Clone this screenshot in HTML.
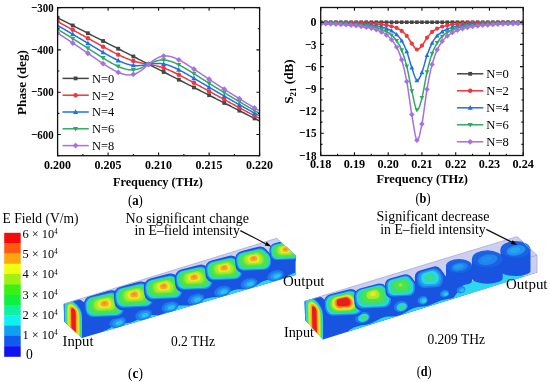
<!DOCTYPE html>
<html lang="en"><head><meta charset="utf-8"><title>Figure</title>
<style>html,body{margin:0;padding:0;background:#fff}svg{display:block}text{font-family:'Liberation Serif', serif}</style>
</head><body>
<svg width="550" height="382" viewBox="0 0 550 382">
<rect width="550" height="382" fill="#fff"/>
<clipPath id="ca"><rect x="57.6" y="7.6" width="202.00000000000003" height="148.1"/></clipPath>
<g clip-path="url(#ca)">
<polyline points="57.60,17.76 58.10,18.01 58.61,18.27 59.12,18.53 59.62,18.79 60.13,19.05 60.63,19.30 61.13,19.56 61.64,19.82 62.15,20.08 62.65,20.34 63.15,20.59 63.66,20.85 64.17,21.11 64.67,21.37 65.18,21.63 65.68,21.89 66.18,22.14 66.69,22.40 67.20,22.66 67.70,22.92 68.20,23.18 68.71,23.43 69.22,23.69 69.72,23.95 70.23,24.21 70.73,24.47 71.23,24.72 71.74,24.98 72.25,25.24 72.75,25.50 73.25,25.76 73.76,26.02 74.27,26.27 74.77,26.53 75.28,26.79 75.78,27.05 76.28,27.31 76.79,27.56 77.30,27.82 77.80,28.08 78.30,28.34 78.81,28.60 79.32,28.85 79.82,29.11 80.33,29.37 80.83,29.63 81.33,29.89 81.84,30.15 82.35,30.40 82.85,30.66 83.35,30.92 83.86,31.18 84.37,31.44 84.87,31.69 85.38,31.95 85.88,32.21 86.38,32.47 86.89,32.73 87.40,32.98 87.90,33.24 88.40,33.50 88.91,33.76 89.41,34.02 89.92,34.27 90.43,34.53 90.93,34.79 91.43,35.05 91.94,35.31 92.45,35.57 92.95,35.82 93.45,36.08 93.96,36.34 94.46,36.60 94.97,36.86 95.48,37.11 95.98,37.37 96.48,37.63 96.99,37.89 97.50,38.15 98.00,38.40 98.50,38.66 99.01,38.92 99.51,39.18 100.02,39.44 100.53,39.70 101.03,39.95 101.53,40.21 102.04,40.47 102.55,40.73 103.05,40.99 103.55,41.24 104.06,41.50 104.56,41.76 105.07,42.02 105.58,42.28 106.08,42.53 106.58,42.79 107.09,43.05 107.60,43.31 108.10,43.57 108.60,43.83 109.11,44.08 109.61,44.34 110.12,44.60 110.63,44.86 111.13,45.12 111.63,45.37 112.14,45.63 112.65,45.89 113.15,46.15 113.66,46.41 114.16,46.66 114.66,46.92 115.17,47.18 115.68,47.44 116.18,47.70 116.68,47.96 117.19,48.21 117.70,48.47 118.20,48.73 118.71,48.99 119.21,49.25 119.71,49.50 120.22,49.76 120.73,50.02 121.23,50.28 121.73,50.54 122.24,50.79 122.75,51.05 123.25,51.31 123.76,51.57 124.26,51.83 124.76,52.09 125.27,52.34 125.78,52.60 126.28,52.86 126.78,53.12 127.29,53.38 127.80,53.63 128.30,53.89 128.81,54.15 129.31,54.41 129.81,54.67 130.32,54.92 130.83,55.18 131.33,55.44 131.83,55.70 132.34,55.96 132.85,56.21 133.35,56.47 133.86,56.73 134.36,56.99 134.86,57.25 135.37,57.51 135.88,57.76 136.38,58.02 136.88,58.28 137.39,58.54 137.90,58.80 138.40,59.05 138.91,59.31 139.41,59.57 139.91,59.83 140.42,60.09 140.93,60.34 141.43,60.60 141.93,60.86 142.44,61.12 142.95,61.38 143.45,61.64 143.96,61.89 144.46,62.15 144.96,62.41 145.47,62.67 145.98,62.93 146.48,63.18 146.98,63.44 147.49,63.70 148.00,63.96 148.50,64.22 149.01,64.47 149.51,64.73 150.01,64.99 150.52,65.25 151.03,65.51 151.53,65.77 152.03,66.02 152.54,66.28 153.05,66.54 153.55,66.80 154.06,67.06 154.56,67.31 155.06,67.57 155.57,67.83 156.08,68.09 156.58,68.35 157.08,68.60 157.59,68.86 158.10,69.12 158.60,69.38 159.11,69.64 159.61,69.90 160.11,70.15 160.62,70.41 161.13,70.67 161.63,70.93 162.13,71.19 162.64,71.44 163.14,71.70 163.65,71.96 164.16,72.22 164.66,72.48 165.16,72.73 165.67,72.99 166.18,73.25 166.68,73.51 167.19,73.77 167.69,74.02 168.19,74.28 168.70,74.54 169.21,74.80 169.71,75.06 170.21,75.32 170.72,75.57 171.23,75.83 171.73,76.09 172.23,76.35 172.74,76.61 173.24,76.86 173.75,77.12 174.26,77.38 174.76,77.64 175.26,77.90 175.77,78.15 176.28,78.41 176.78,78.67 177.28,78.93 177.79,79.19 178.29,79.45 178.80,79.70 179.31,79.96 179.81,80.22 180.31,80.48 180.82,80.74 181.33,80.99 181.83,81.25 182.34,81.51 182.84,81.77 183.34,82.03 183.85,82.28 184.36,82.54 184.86,82.80 185.36,83.06 185.87,83.32 186.38,83.58 186.88,83.83 187.38,84.09 187.89,84.35 188.39,84.61 188.90,84.87 189.41,85.12 189.91,85.38 190.41,85.64 190.92,85.90 191.43,86.16 191.93,86.41 192.44,86.67 192.94,86.93 193.44,87.19 193.95,87.45 194.46,87.71 194.96,87.96 195.46,88.22 195.97,88.48 196.48,88.74 196.98,89.00 197.49,89.25 197.99,89.51 198.49,89.77 199.00,90.03 199.51,90.29 200.01,90.54 200.51,90.80 201.02,91.06 201.53,91.32 202.03,91.58 202.54,91.84 203.04,92.09 203.54,92.35 204.05,92.61 204.56,92.87 205.06,93.13 205.56,93.38 206.07,93.64 206.58,93.90 207.08,94.16 207.59,94.42 208.09,94.67 208.59,94.93 209.10,95.19 209.61,95.45 210.11,95.71 210.61,95.96 211.12,96.22 211.63,96.48 212.13,96.74 212.64,97.00 213.14,97.26 213.64,97.51 214.15,97.77 214.66,98.03 215.16,98.29 215.66,98.55 216.17,98.80 216.67,99.06 217.18,99.32 217.69,99.58 218.19,99.84 218.69,100.09 219.20,100.35 219.71,100.61 220.21,100.87 220.72,101.13 221.22,101.39 221.72,101.64 222.23,101.90 222.74,102.16 223.24,102.42 223.74,102.68 224.25,102.93 224.76,103.19 225.26,103.45 225.76,103.71 226.27,103.97 226.77,104.22 227.28,104.48 227.79,104.74 228.29,105.00 228.79,105.26 229.30,105.52 229.81,105.77 230.31,106.03 230.81,106.29 231.32,106.55 231.82,106.81 232.33,107.06 232.84,107.32 233.34,107.58 233.84,107.84 234.35,108.10 234.86,108.35 235.36,108.61 235.87,108.87 236.37,109.13 236.87,109.39 237.38,109.65 237.89,109.90 238.39,110.16 238.89,110.42 239.40,110.68 239.91,110.94 240.41,111.19 240.92,111.45 241.42,111.71 241.92,111.97 242.43,112.23 242.94,112.48 243.44,112.74 243.94,113.00 244.45,113.26 244.96,113.52 245.46,113.78 245.97,114.03 246.47,114.29 246.97,114.55 247.48,114.81 247.99,115.07 248.49,115.32 248.99,115.58 249.50,115.84 250.01,116.10 250.51,116.36 251.02,116.61 251.52,116.87 252.02,117.13 252.53,117.39 253.04,117.65 253.54,117.90 254.04,118.16 254.55,118.42 255.06,118.68 255.56,118.94 256.07,119.20 256.57,119.45 257.07,119.71 257.58,119.97 258.09,120.23 258.59,120.49 259.09,120.74 259.60,121.00" fill="none" stroke="#454545" stroke-width="1.5"/>
<rect x="55.70" y="15.85" width="3.81" height="3.81" fill="#454545"/><rect x="70.85" y="23.59" width="3.81" height="3.81" fill="#454545"/><rect x="86.00" y="31.34" width="3.81" height="3.81" fill="#454545"/><rect x="101.15" y="39.08" width="3.81" height="3.81" fill="#454545"/><rect x="116.30" y="46.83" width="3.81" height="3.81" fill="#454545"/><rect x="131.45" y="54.57" width="3.81" height="3.81" fill="#454545"/><rect x="146.60" y="62.31" width="3.81" height="3.81" fill="#454545"/><rect x="161.75" y="70.06" width="3.81" height="3.81" fill="#454545"/><rect x="176.90" y="77.80" width="3.81" height="3.81" fill="#454545"/><rect x="192.05" y="85.54" width="3.81" height="3.81" fill="#454545"/><rect x="207.20" y="93.29" width="3.81" height="3.81" fill="#454545"/><rect x="222.35" y="101.03" width="3.81" height="3.81" fill="#454545"/><rect x="237.50" y="108.77" width="3.81" height="3.81" fill="#454545"/><rect x="252.65" y="116.52" width="3.81" height="3.81" fill="#454545"/>
<polyline points="57.60,21.58 58.10,21.86 58.61,22.13 59.12,22.41 59.62,22.68 60.13,22.96 60.63,23.23 61.13,23.51 61.64,23.78 62.15,24.06 62.65,24.33 63.15,24.61 63.66,24.89 64.17,25.16 64.67,25.44 65.18,25.71 65.68,25.99 66.18,26.27 66.69,26.54 67.20,26.82 67.70,27.09 68.20,27.37 68.71,27.65 69.22,27.92 69.72,28.20 70.23,28.48 70.73,28.76 71.23,29.03 71.74,29.31 72.25,29.59 72.75,29.87 73.25,30.14 73.76,30.42 74.27,30.70 74.77,30.98 75.28,31.26 75.78,31.54 76.28,31.81 76.79,32.09 77.30,32.37 77.80,32.65 78.30,32.93 78.81,33.21 79.32,33.49 79.82,33.77 80.33,34.05 80.83,34.33 81.33,34.60 81.84,34.88 82.35,35.16 82.85,35.44 83.35,35.72 83.86,36.00 84.37,36.28 84.87,36.56 85.38,36.84 85.88,37.12 86.38,37.40 86.89,37.68 87.40,37.97 87.90,38.25 88.40,38.53 88.91,38.81 89.41,39.09 89.92,39.37 90.43,39.65 90.93,39.93 91.43,40.21 91.94,40.49 92.45,40.77 92.95,41.05 93.45,41.33 93.96,41.61 94.46,41.89 94.97,42.17 95.48,42.45 95.98,42.73 96.48,43.01 96.99,43.29 97.50,43.57 98.00,43.85 98.50,44.13 99.01,44.41 99.51,44.69 100.02,44.97 100.53,45.25 101.03,45.53 101.53,45.80 102.04,46.08 102.55,46.36 103.05,46.64 103.55,46.91 104.06,47.19 104.56,47.47 105.07,47.74 105.58,48.02 106.08,48.29 106.58,48.56 107.09,48.84 107.60,49.11 108.10,49.38 108.60,49.65 109.11,49.93 109.61,50.20 110.12,50.47 110.63,50.73 111.13,51.00 111.63,51.27 112.14,51.53 112.65,51.80 113.15,52.06 113.66,52.32 114.16,52.59 114.66,52.85 115.17,53.10 115.68,53.36 116.18,53.62 116.68,53.87 117.19,54.13 117.70,54.38 118.20,54.63 118.71,54.87 119.21,55.12 119.71,55.36 120.22,55.61 120.73,55.85 121.23,56.08 121.73,56.32 122.24,56.55 122.75,56.78 123.25,57.01 123.76,57.24 124.26,57.46 124.76,57.68 125.27,57.90 125.78,58.12 126.28,58.33 126.78,58.54 127.29,58.74 127.80,58.94 128.30,59.14 128.81,59.34 129.31,59.53 129.81,59.72 130.32,59.90 130.83,60.09 131.33,60.26 131.83,60.44 132.34,60.61 132.85,60.77 133.35,60.94 133.86,61.09 134.36,61.25 134.86,61.40 135.37,61.55 135.88,61.69 136.38,61.83 136.88,61.96 137.39,62.09 137.90,62.22 138.40,62.34 138.91,62.46 139.41,62.58 139.91,62.69 140.42,62.80 140.93,62.91 141.43,63.01 141.93,63.11 142.44,63.20 142.95,63.30 143.45,63.39 143.96,63.48 144.46,63.57 144.96,63.65 145.47,63.74 145.98,63.82 146.48,63.90 146.98,63.98 147.49,64.06 148.00,64.14 148.50,64.22 149.01,64.31 149.51,64.40 150.01,64.49 150.52,64.59 151.03,64.68 151.53,64.78 152.03,64.88 152.54,64.98 153.05,65.08 153.55,65.19 154.06,65.29 154.56,65.40 155.06,65.51 155.57,65.63 156.08,65.75 156.58,65.87 157.08,66.00 157.59,66.13 158.10,66.26 158.60,66.40 159.11,66.54 159.61,66.68 160.11,66.83 160.62,66.98 161.13,67.14 161.63,67.30 162.13,67.46 162.64,67.63 163.14,67.81 163.65,67.98 164.16,68.16 164.66,68.35 165.16,68.54 165.67,68.73 166.18,68.92 166.68,69.12 167.19,69.32 167.69,69.53 168.19,69.74 168.70,69.95 169.21,70.17 169.71,70.39 170.21,70.61 170.72,70.83 171.23,71.06 171.73,71.29 172.23,71.52 172.74,71.76 173.24,71.99 173.75,72.23 174.26,72.47 174.76,72.72 175.26,72.96 175.77,73.21 176.28,73.46 176.78,73.71 177.28,73.96 177.79,74.22 178.29,74.47 178.80,74.73 179.31,74.99 179.81,75.25 180.31,75.51 180.82,75.77 181.33,76.04 181.83,76.30 182.34,76.57 182.84,76.84 183.34,77.10 183.85,77.37 184.36,77.64 184.86,77.91 185.36,78.18 185.87,78.45 186.38,78.72 186.88,79.00 187.38,79.27 187.89,79.54 188.39,79.82 188.90,80.09 189.41,80.37 189.91,80.64 190.41,80.92 190.92,81.20 191.43,81.47 191.93,81.75 192.44,82.03 192.94,82.30 193.44,82.58 193.95,82.86 194.46,83.14 194.96,83.41 195.46,83.69 195.97,83.97 196.48,84.25 196.98,84.53 197.49,84.81 197.99,85.08 198.49,85.36 199.00,85.64 199.51,85.92 200.01,86.20 200.51,86.48 201.02,86.76 201.53,87.04 202.03,87.31 202.54,87.59 203.04,87.87 203.54,88.15 204.05,88.43 204.56,88.71 205.06,88.99 205.56,89.27 206.07,89.54 206.58,89.82 207.08,90.10 207.59,90.38 208.09,90.66 208.59,90.93 209.10,91.21 209.61,91.49 210.11,91.77 210.61,92.05 211.12,92.32 211.63,92.60 212.13,92.88 212.64,93.16 213.14,93.43 213.64,93.71 214.15,93.99 214.66,94.27 215.16,94.54 215.66,94.82 216.17,95.10 216.67,95.37 217.18,95.65 217.69,95.92 218.19,96.20 218.69,96.48 219.20,96.75 219.71,97.03 220.21,97.30 220.72,97.58 221.22,97.86 221.72,98.13 222.23,98.41 222.74,98.68 223.24,98.96 223.74,99.23 224.25,99.51 224.76,99.78 225.26,100.05 225.76,100.33 226.27,100.60 226.77,100.88 227.28,101.15 227.79,101.42 228.29,101.70 228.79,101.97 229.30,102.25 229.81,102.52 230.31,102.79 230.81,103.07 231.32,103.34 231.82,103.61 232.33,103.89 232.84,104.16 233.34,104.43 233.84,104.70 234.35,104.98 234.86,105.25 235.36,105.52 235.87,105.79 236.37,106.06 236.87,106.34 237.38,106.61 237.89,106.88 238.39,107.15 238.89,107.42 239.40,107.69 239.91,107.97 240.41,108.24 240.92,108.51 241.42,108.78 241.92,109.05 242.43,109.32 242.94,109.59 243.44,109.86 243.94,110.13 244.45,110.40 244.96,110.67 245.46,110.94 245.97,111.21 246.47,111.48 246.97,111.75 247.48,112.02 247.99,112.29 248.49,112.56 248.99,112.83 249.50,113.10 250.01,113.37 250.51,113.64 251.02,113.91 251.52,114.18 252.02,114.45 252.53,114.72 253.04,114.99 253.54,115.26 254.04,115.53 254.55,115.79 255.06,116.06 255.56,116.33 256.07,116.60 256.57,116.87 257.07,117.14 257.58,117.41 258.09,117.67 258.59,117.94 259.09,118.21 259.60,118.48" fill="none" stroke="#f0363a" stroke-width="1.5"/>
<circle cx="57.60" cy="21.58" r="2.24" fill="#f0363a"/><circle cx="72.75" cy="29.87" r="2.24" fill="#f0363a"/><circle cx="87.90" cy="38.25" r="2.24" fill="#f0363a"/><circle cx="103.05" cy="46.64" r="2.24" fill="#f0363a"/><circle cx="118.20" cy="54.63" r="2.24" fill="#f0363a"/><circle cx="133.35" cy="60.94" r="2.24" fill="#f0363a"/><circle cx="148.50" cy="64.22" r="2.24" fill="#f0363a"/><circle cx="163.65" cy="67.98" r="2.24" fill="#f0363a"/><circle cx="178.80" cy="74.73" r="2.24" fill="#f0363a"/><circle cx="193.95" cy="82.86" r="2.24" fill="#f0363a"/><circle cx="209.10" cy="91.21" r="2.24" fill="#f0363a"/><circle cx="224.25" cy="99.51" r="2.24" fill="#f0363a"/><circle cx="239.40" cy="107.69" r="2.24" fill="#f0363a"/><circle cx="254.55" cy="115.79" r="2.24" fill="#f0363a"/>
<polyline points="57.60,25.41 58.10,25.70 58.61,26.00 59.12,26.29 59.62,26.58 60.13,26.87 60.63,27.16 61.13,27.45 61.64,27.75 62.15,28.04 62.65,28.33 63.15,28.62 63.66,28.92 64.17,29.21 64.67,29.50 65.18,29.80 65.68,30.09 66.18,30.39 66.69,30.68 67.20,30.98 67.70,31.27 68.20,31.57 68.71,31.86 69.22,32.16 69.72,32.45 70.23,32.75 70.73,33.05 71.23,33.34 71.74,33.64 72.25,33.94 72.75,34.23 73.25,34.53 73.76,34.83 74.27,35.13 74.77,35.43 75.28,35.72 75.78,36.02 76.28,36.32 76.79,36.62 77.30,36.92 77.80,37.22 78.30,37.52 78.81,37.82 79.32,38.12 79.82,38.42 80.33,38.72 80.83,39.02 81.33,39.32 81.84,39.62 82.35,39.92 82.85,40.23 83.35,40.53 83.86,40.83 84.37,41.13 84.87,41.43 85.38,41.74 85.88,42.04 86.38,42.34 86.89,42.64 87.40,42.95 87.90,43.25 88.40,43.55 88.91,43.85 89.41,44.16 89.92,44.46 90.43,44.76 90.93,45.07 91.43,45.37 91.94,45.67 92.45,45.97 92.95,46.28 93.45,46.58 93.96,46.88 94.46,47.19 94.97,47.49 95.48,47.79 95.98,48.09 96.48,48.39 96.99,48.70 97.50,49.00 98.00,49.30 98.50,49.60 99.01,49.90 99.51,50.20 100.02,50.50 100.53,50.80 101.03,51.10 101.53,51.40 102.04,51.69 102.55,51.99 103.05,52.29 103.55,52.58 104.06,52.88 104.56,53.17 105.07,53.46 105.58,53.76 106.08,54.05 106.58,54.34 107.09,54.63 107.60,54.91 108.10,55.20 108.60,55.48 109.11,55.77 109.61,56.05 110.12,56.33 110.63,56.61 111.13,56.89 111.63,57.16 112.14,57.44 112.65,57.71 113.15,57.98 113.66,58.24 114.16,58.51 114.66,58.77 115.17,59.03 115.68,59.29 116.18,59.54 116.68,59.79 117.19,60.04 117.70,60.28 118.20,60.52 118.71,60.76 119.21,61.00 119.71,61.23 120.22,61.45 120.73,61.67 121.23,61.89 121.73,62.10 122.24,62.31 122.75,62.52 123.25,62.72 123.76,62.91 124.26,63.10 124.76,63.28 125.27,63.46 125.78,63.63 126.28,63.80 126.78,63.96 127.29,64.11 127.80,64.26 128.30,64.40 128.81,64.53 129.31,64.65 129.81,64.77 130.32,64.89 130.83,64.99 131.33,65.09 131.83,65.18 132.34,65.26 132.85,65.33 133.35,65.40 133.86,65.46 134.36,65.51 134.86,65.55 135.37,65.59 135.88,65.61 136.38,65.63 136.88,65.64 137.39,65.65 137.90,65.64 138.40,65.63 138.91,65.61 139.41,65.59 139.91,65.55 140.42,65.51 140.93,65.47 141.43,65.41 141.93,65.35 142.44,65.29 142.95,65.22 143.45,65.15 143.96,65.07 144.46,64.98 144.96,64.89 145.47,64.80 145.98,64.71 146.48,64.61 146.98,64.52 147.49,64.42 148.00,64.32 148.50,64.22 149.01,64.14 149.51,64.07 150.01,64.00 150.52,63.93 151.03,63.86 151.53,63.80 152.03,63.73 152.54,63.68 153.05,63.62 153.55,63.57 154.06,63.53 154.56,63.49 155.06,63.46 155.57,63.43 156.08,63.41 156.58,63.40 157.08,63.39 157.59,63.39 158.10,63.40 158.60,63.41 159.11,63.44 159.61,63.47 160.11,63.51 160.62,63.55 161.13,63.61 161.63,63.67 162.13,63.74 162.64,63.82 163.14,63.91 163.65,64.00 164.16,64.11 164.66,64.22 165.16,64.34 165.67,64.46 166.18,64.59 166.68,64.73 167.19,64.88 167.69,65.04 168.19,65.20 168.70,65.36 169.21,65.54 169.71,65.71 170.21,65.90 170.72,66.09 171.23,66.29 171.73,66.49 172.23,66.69 172.74,66.90 173.24,67.12 173.75,67.34 174.26,67.57 174.76,67.80 175.26,68.03 175.77,68.27 176.28,68.51 176.78,68.75 177.28,69.00 177.79,69.25 178.29,69.50 178.80,69.76 179.31,70.02 179.81,70.28 180.31,70.55 180.82,70.81 181.33,71.08 181.83,71.35 182.34,71.63 182.84,71.90 183.34,72.18 183.85,72.46 184.36,72.74 184.86,73.02 185.36,73.30 185.87,73.59 186.38,73.87 186.88,74.16 187.38,74.45 187.89,74.74 188.39,75.03 188.90,75.32 189.41,75.61 189.91,75.90 190.41,76.20 190.92,76.49 191.43,76.79 191.93,77.08 192.44,77.38 192.94,77.67 193.44,77.97 193.95,78.27 194.46,78.57 194.96,78.86 195.46,79.16 195.97,79.46 196.48,79.76 196.98,80.06 197.49,80.36 197.99,80.66 198.49,80.95 199.00,81.25 199.51,81.55 200.01,81.85 200.51,82.15 201.02,82.45 201.53,82.75 202.03,83.05 202.54,83.35 203.04,83.65 203.54,83.95 204.05,84.25 204.56,84.55 205.06,84.85 205.56,85.15 206.07,85.45 206.58,85.74 207.08,86.04 207.59,86.34 208.09,86.64 208.59,86.94 209.10,87.24 209.61,87.53 210.11,87.83 210.61,88.13 211.12,88.43 211.63,88.72 212.13,89.02 212.64,89.32 213.14,89.61 213.64,89.91 214.15,90.20 214.66,90.50 215.16,90.80 215.66,91.09 216.17,91.39 216.67,91.68 217.18,91.98 217.69,92.27 218.19,92.56 218.69,92.86 219.20,93.15 219.71,93.45 220.21,93.74 220.72,94.03 221.22,94.32 221.72,94.62 222.23,94.91 222.74,95.20 223.24,95.49 223.74,95.78 224.25,96.08 224.76,96.37 225.26,96.66 225.76,96.95 226.27,97.24 226.77,97.53 227.28,97.82 227.79,98.11 228.29,98.40 228.79,98.69 229.30,98.98 229.81,99.27 230.31,99.55 230.81,99.84 231.32,100.13 231.82,100.42 232.33,100.71 232.84,100.99 233.34,101.28 233.84,101.57 234.35,101.85 234.86,102.14 235.36,102.43 235.87,102.71 236.37,103.00 236.87,103.29 237.38,103.57 237.89,103.86 238.39,104.14 238.89,104.43 239.40,104.71 239.91,105.00 240.41,105.28 240.92,105.56 241.42,105.85 241.92,106.13 242.43,106.42 242.94,106.70 243.44,106.98 243.94,107.27 244.45,107.55 244.96,107.83 245.46,108.11 245.97,108.40 246.47,108.68 246.97,108.96 247.48,109.24 247.99,109.52 248.49,109.80 248.99,110.09 249.50,110.37 250.01,110.65 250.51,110.93 251.02,111.21 251.52,111.49 252.02,111.77 252.53,112.05 253.04,112.33 253.54,112.61 254.04,112.89 254.55,113.17 255.06,113.45 255.56,113.73 256.07,114.01 256.57,114.28 257.07,114.56 257.58,114.84 258.09,115.12 258.59,115.40 259.09,115.68 259.60,115.95" fill="none" stroke="#1f6fe6" stroke-width="1.5"/>
<path d="M57.60 22.73L60.15 27.30L55.05 27.30Z" fill="#1f6fe6"/><path d="M72.75 31.55L75.30 36.12L70.20 36.12Z" fill="#1f6fe6"/><path d="M87.90 40.56L90.45 45.13L85.35 45.13Z" fill="#1f6fe6"/><path d="M103.05 49.60L105.60 54.17L100.50 54.17Z" fill="#1f6fe6"/><path d="M118.20 57.84L120.75 62.41L115.65 62.41Z" fill="#1f6fe6"/><path d="M133.35 62.71L135.90 67.28L130.80 67.28Z" fill="#1f6fe6"/><path d="M148.50 61.53L151.05 66.10L145.95 66.10Z" fill="#1f6fe6"/><path d="M163.65 61.32L166.20 65.89L161.10 65.89Z" fill="#1f6fe6"/><path d="M178.80 67.07L181.35 71.64L176.25 71.64Z" fill="#1f6fe6"/><path d="M193.95 75.58L196.50 80.15L191.40 80.15Z" fill="#1f6fe6"/><path d="M209.10 84.55L211.65 89.12L206.55 89.12Z" fill="#1f6fe6"/><path d="M224.25 93.39L226.80 97.96L221.70 97.96Z" fill="#1f6fe6"/><path d="M239.40 102.02L241.95 106.59L236.85 106.59Z" fill="#1f6fe6"/><path d="M254.55 110.48L257.10 115.05L252.00 115.05Z" fill="#1f6fe6"/>
<polyline points="57.60,29.24 58.10,29.55 58.61,29.86 59.12,30.17 59.62,30.47 60.13,30.78 60.63,31.09 61.13,31.40 61.64,31.71 62.15,32.02 62.65,32.33 63.15,32.64 63.66,32.95 64.17,33.26 64.67,33.57 65.18,33.88 65.68,34.20 66.18,34.51 66.69,34.82 67.20,35.13 67.70,35.45 68.20,35.76 68.71,36.08 69.22,36.39 69.72,36.71 70.23,37.02 70.73,37.34 71.23,37.65 71.74,37.97 72.25,38.28 72.75,38.60 73.25,38.92 73.76,39.24 74.27,39.55 74.77,39.87 75.28,40.19 75.78,40.51 76.28,40.83 76.79,41.15 77.30,41.47 77.80,41.79 78.30,42.11 78.81,42.43 79.32,42.75 79.82,43.07 80.33,43.40 80.83,43.72 81.33,44.04 81.84,44.36 82.35,44.69 82.85,45.01 83.35,45.33 83.86,45.66 84.37,45.98 84.87,46.30 85.38,46.63 85.88,46.95 86.38,47.28 86.89,47.60 87.40,47.93 87.90,48.25 88.40,48.58 88.91,48.90 89.41,49.23 89.92,49.55 90.43,49.88 90.93,50.20 91.43,50.53 91.94,50.85 92.45,51.18 92.95,51.50 93.45,51.83 93.96,52.15 94.46,52.48 94.97,52.80 95.48,53.13 95.98,53.45 96.48,53.78 96.99,54.10 97.50,54.42 98.00,54.75 98.50,55.07 99.01,55.39 99.51,55.71 100.02,56.03 100.53,56.35 101.03,56.67 101.53,56.99 102.04,57.30 102.55,57.62 103.05,57.94 103.55,58.25 104.06,58.56 104.56,58.88 105.07,59.19 105.58,59.49 106.08,59.80 106.58,60.11 107.09,60.41 107.60,60.71 108.10,61.02 108.60,61.31 109.11,61.61 109.61,61.90 110.12,62.20 110.63,62.49 111.13,62.77 111.63,63.06 112.14,63.34 112.65,63.61 113.15,63.89 113.66,64.16 114.16,64.43 114.66,64.69 115.17,64.95 115.68,65.21 116.18,65.46 116.68,65.71 117.19,65.95 117.70,66.19 118.20,66.42 118.71,66.65 119.21,66.87 119.71,67.09 120.22,67.30 120.73,67.50 121.23,67.70 121.73,67.89 122.24,68.07 122.75,68.25 123.25,68.42 123.76,68.58 124.26,68.73 124.76,68.88 125.27,69.02 125.78,69.14 126.28,69.26 126.78,69.37 127.29,69.47 127.80,69.57 128.30,69.65 128.81,69.72 129.31,69.78 129.81,69.83 130.32,69.87 130.83,69.89 131.33,69.91 131.83,69.92 132.34,69.91 132.85,69.89 133.35,69.86 133.86,69.82 134.36,69.77 134.86,69.70 135.37,69.63 135.88,69.54 136.38,69.44 136.88,69.33 137.39,69.20 137.90,69.07 138.40,68.92 138.91,68.76 139.41,68.59 139.91,68.41 140.42,68.23 140.93,68.03 141.43,67.82 141.93,67.60 142.44,67.37 142.95,67.14 143.45,66.90 143.96,66.65 144.46,66.40 144.96,66.14 145.47,65.87 145.98,65.60 146.48,65.33 146.98,65.05 147.49,64.78 148.00,64.50 148.50,64.22 149.01,63.98 149.51,63.74 150.01,63.50 150.52,63.27 151.03,63.04 151.53,62.81 152.03,62.59 152.54,62.37 153.05,62.16 153.55,61.96 154.06,61.76 154.56,61.58 155.06,61.40 155.57,61.23 156.08,61.07 156.58,60.92 157.08,60.78 157.59,60.65 158.10,60.54 158.60,60.43 159.11,60.34 159.61,60.25 160.11,60.18 160.62,60.12 161.13,60.08 161.63,60.04 162.13,60.02 162.64,60.01 163.14,60.01 163.65,60.03 164.16,60.05 164.66,60.09 165.16,60.14 165.67,60.20 166.18,60.27 166.68,60.35 167.19,60.44 167.69,60.54 168.19,60.65 168.70,60.77 169.21,60.90 169.71,61.04 170.21,61.19 170.72,61.35 171.23,61.51 171.73,61.69 172.23,61.87 172.74,62.05 173.24,62.25 173.75,62.45 174.26,62.66 174.76,62.87 175.26,63.09 175.77,63.32 176.28,63.55 176.78,63.79 177.28,64.03 177.79,64.28 178.29,64.53 178.80,64.79 179.31,65.05 179.81,65.31 180.31,65.58 180.82,65.85 181.33,66.13 181.83,66.40 182.34,66.68 182.84,66.97 183.34,67.26 183.85,67.54 184.36,67.84 184.86,68.13 185.36,68.43 185.87,68.72 186.38,69.02 186.88,69.32 187.38,69.63 187.89,69.93 188.39,70.24 188.90,70.55 189.41,70.86 189.91,71.17 190.41,71.48 190.92,71.79 191.43,72.10 191.93,72.42 192.44,72.73 192.94,73.05 193.44,73.36 193.95,73.68 194.46,74.00 194.96,74.31 195.46,74.63 195.97,74.95 196.48,75.27 196.98,75.59 197.49,75.91 197.99,76.23 198.49,76.55 199.00,76.87 199.51,77.19 200.01,77.51 200.51,77.83 201.02,78.15 201.53,78.47 202.03,78.79 202.54,79.11 203.04,79.43 203.54,79.75 204.05,80.07 204.56,80.39 205.06,80.71 205.56,81.03 206.07,81.35 206.58,81.67 207.08,81.98 207.59,82.30 208.09,82.62 208.59,82.94 209.10,83.26 209.61,83.58 210.11,83.89 210.61,84.21 211.12,84.53 211.63,84.84 212.13,85.16 212.64,85.48 213.14,85.79 213.64,86.11 214.15,86.42 214.66,86.74 215.16,87.05 215.66,87.36 216.17,87.68 216.67,87.99 217.18,88.30 217.69,88.62 218.19,88.93 218.69,89.24 219.20,89.55 219.71,89.86 220.21,90.17 220.72,90.48 221.22,90.79 221.72,91.10 222.23,91.41 222.74,91.72 223.24,92.03 223.74,92.34 224.25,92.65 224.76,92.95 225.26,93.26 225.76,93.57 226.27,93.88 226.77,94.18 227.28,94.49 227.79,94.79 228.29,95.10 228.79,95.40 229.30,95.71 229.81,96.01 230.31,96.32 230.81,96.62 231.32,96.92 231.82,97.22 232.33,97.53 232.84,97.83 233.34,98.13 233.84,98.43 234.35,98.73 234.86,99.03 235.36,99.34 235.87,99.64 236.37,99.94 236.87,100.23 237.38,100.53 237.89,100.83 238.39,101.13 238.89,101.43 239.40,101.73 239.91,102.03 240.41,102.32 240.92,102.62 241.42,102.92 241.92,103.21 242.43,103.51 242.94,103.81 243.44,104.10 243.94,104.40 244.45,104.69 244.96,104.99 245.46,105.28 245.97,105.58 246.47,105.87 246.97,106.16 247.48,106.46 247.99,106.75 248.49,107.04 248.99,107.34 249.50,107.63 250.01,107.92 250.51,108.21 251.02,108.51 251.52,108.80 252.02,109.09 252.53,109.38 253.04,109.67 253.54,109.96 254.04,110.25 254.55,110.54 255.06,110.83 255.56,111.12 256.07,111.41 256.57,111.70 257.07,111.99 257.58,112.28 258.09,112.57 258.59,112.85 259.09,113.14 259.60,113.43" fill="none" stroke="#2fa862" stroke-width="1.5"/>
<path d="M57.60 31.93L60.15 27.36L55.05 27.36Z" fill="#2fa862"/><path d="M72.75 41.29L75.30 36.72L70.20 36.72Z" fill="#2fa862"/><path d="M87.90 50.94L90.45 46.37L85.35 46.37Z" fill="#2fa862"/><path d="M103.05 60.62L105.60 56.05L100.50 56.05Z" fill="#2fa862"/><path d="M118.20 69.11L120.75 64.54L115.65 64.54Z" fill="#2fa862"/><path d="M133.35 72.55L135.90 67.98L130.80 67.98Z" fill="#2fa862"/><path d="M148.50 66.90L151.05 62.33L145.95 62.33Z" fill="#2fa862"/><path d="M163.65 62.72L166.20 58.15L161.10 58.15Z" fill="#2fa862"/><path d="M178.80 67.48L181.35 62.91L176.25 62.91Z" fill="#2fa862"/><path d="M193.95 76.37L196.50 71.80L191.40 71.80Z" fill="#2fa862"/><path d="M209.10 85.95L211.65 81.38L206.55 81.38Z" fill="#2fa862"/><path d="M224.25 95.34L226.80 90.77L221.70 90.77Z" fill="#2fa862"/><path d="M239.40 104.42L241.95 99.85L236.85 99.85Z" fill="#2fa862"/><path d="M254.55 113.23L257.10 108.66L252.00 108.66Z" fill="#2fa862"/>
<polyline points="57.60,33.07 58.10,33.40 58.61,33.72 59.12,34.04 59.62,34.37 60.13,34.69 60.63,35.02 61.13,35.35 61.64,35.67 62.15,36.00 62.65,36.33 63.15,36.65 63.66,36.98 64.17,37.31 64.67,37.64 65.18,37.97 65.68,38.30 66.18,38.63 66.69,38.96 67.20,39.29 67.70,39.62 68.20,39.96 68.71,40.29 69.22,40.62 69.72,40.96 70.23,41.29 70.73,41.63 71.23,41.96 71.74,42.30 72.25,42.63 72.75,42.97 73.25,43.31 73.76,43.64 74.27,43.98 74.77,44.32 75.28,44.66 75.78,45.00 76.28,45.34 76.79,45.68 77.30,46.02 77.80,46.36 78.30,46.70 78.81,47.04 79.32,47.38 79.82,47.73 80.33,48.07 80.83,48.41 81.33,48.76 81.84,49.10 82.35,49.45 82.85,49.79 83.35,50.14 83.86,50.48 84.37,50.83 84.87,51.17 85.38,51.52 85.88,51.87 86.38,52.21 86.89,52.56 87.40,52.91 87.90,53.25 88.40,53.60 88.91,53.95 89.41,54.30 89.92,54.65 90.43,54.99 90.93,55.34 91.43,55.69 91.94,56.04 92.45,56.38 92.95,56.73 93.45,57.08 93.96,57.43 94.46,57.77 94.97,58.12 95.48,58.47 95.98,58.81 96.48,59.16 96.99,59.50 97.50,59.85 98.00,60.19 98.50,60.54 99.01,60.88 99.51,61.22 100.02,61.56 100.53,61.90 101.03,62.24 101.53,62.58 102.04,62.92 102.55,63.25 103.05,63.59 103.55,63.92 104.06,64.25 104.56,64.58 105.07,64.91 105.58,65.23 106.08,65.56 106.58,65.88 107.09,66.20 107.60,66.52 108.10,66.83 108.60,67.14 109.11,67.45 109.61,67.76 110.12,68.06 110.63,68.36 111.13,68.66 111.63,68.95 112.14,69.24 112.65,69.52 113.15,69.80 113.66,70.08 114.16,70.35 114.66,70.62 115.17,70.88 115.68,71.13 116.18,71.38 116.68,71.63 117.19,71.86 117.70,72.09 118.20,72.32 118.71,72.54 119.21,72.75 119.71,72.95 120.22,73.14 120.73,73.33 121.23,73.50 121.73,73.67 122.24,73.83 122.75,73.98 123.25,74.12 123.76,74.25 124.26,74.37 124.76,74.48 125.27,74.57 125.78,74.66 126.28,74.73 126.78,74.79 127.29,74.84 127.80,74.88 128.30,74.90 128.81,74.91 129.31,74.90 129.81,74.88 130.32,74.85 130.83,74.80 131.33,74.73 131.83,74.66 132.34,74.56 132.85,74.45 133.35,74.33 133.86,74.19 134.36,74.03 134.86,73.86 135.37,73.67 135.88,73.46 136.38,73.24 136.88,73.01 137.39,72.76 137.90,72.49 138.40,72.21 138.91,71.91 139.41,71.60 139.91,71.28 140.42,70.94 140.93,70.59 141.43,70.22 141.93,69.85 142.44,69.46 142.95,69.06 143.45,68.65 143.96,68.24 144.46,67.81 144.96,67.38 145.47,66.94 145.98,66.50 146.48,66.05 146.98,65.59 147.49,65.14 148.00,64.68 148.50,64.22 149.01,63.81 149.51,63.41 150.01,63.01 150.52,62.61 151.03,62.22 151.53,61.83 152.03,61.45 152.54,61.07 153.05,60.70 153.55,60.35 154.06,60.00 154.56,59.66 155.06,59.34 155.57,59.03 156.08,58.73 156.58,58.44 157.08,58.17 157.59,57.92 158.10,57.67 158.60,57.45 159.11,57.23 159.61,57.04 160.11,56.86 160.62,56.70 161.13,56.55 161.63,56.42 162.13,56.30 162.64,56.20 163.14,56.12 163.65,56.05 164.16,56.00 164.66,55.96 165.16,55.94 165.67,55.93 166.18,55.94 166.68,55.96 167.19,56.00 167.69,56.05 168.19,56.11 168.70,56.18 169.21,56.27 169.71,56.37 170.21,56.48 170.72,56.61 171.23,56.74 171.73,56.88 172.23,57.04 172.74,57.20 173.24,57.38 173.75,57.56 174.26,57.75 174.76,57.95 175.26,58.16 175.77,58.38 176.28,58.60 176.78,58.83 177.28,59.07 177.79,59.31 178.29,59.56 178.80,59.82 179.31,60.08 179.81,60.34 180.31,60.61 180.82,60.89 181.33,61.17 181.83,61.45 182.34,61.74 182.84,62.04 183.34,62.33 183.85,62.63 184.36,62.93 184.86,63.24 185.36,63.55 185.87,63.86 186.38,64.17 186.88,64.49 187.38,64.81 187.89,65.13 188.39,65.45 188.90,65.77 189.41,66.10 189.91,66.43 190.41,66.76 190.92,67.09 191.43,67.42 191.93,67.75 192.44,68.08 192.94,68.42 193.44,68.75 193.95,69.09 194.46,69.43 194.96,69.76 195.46,70.10 195.97,70.44 196.48,70.78 196.98,71.12 197.49,71.46 197.99,71.80 198.49,72.14 199.00,72.48 199.51,72.82 200.01,73.16 200.51,73.50 201.02,73.84 201.53,74.18 202.03,74.53 202.54,74.87 203.04,75.21 203.54,75.55 204.05,75.89 204.56,76.23 205.06,76.57 205.56,76.91 206.07,77.25 206.58,77.59 207.08,77.93 207.59,78.27 208.09,78.60 208.59,78.94 209.10,79.28 209.61,79.62 210.11,79.96 210.61,80.29 211.12,80.63 211.63,80.96 212.13,81.30 212.64,81.63 213.14,81.97 213.64,82.30 214.15,82.64 214.66,82.97 215.16,83.30 215.66,83.64 216.17,83.97 216.67,84.30 217.18,84.63 217.69,84.96 218.19,85.29 218.69,85.62 219.20,85.95 219.71,86.28 220.21,86.61 220.72,86.94 221.22,87.26 221.72,87.59 222.23,87.92 222.74,88.24 223.24,88.57 223.74,88.89 224.25,89.22 224.76,89.54 225.26,89.87 225.76,90.19 226.27,90.51 226.77,90.83 227.28,91.16 227.79,91.48 228.29,91.80 228.79,92.12 229.30,92.44 229.81,92.76 230.31,93.08 230.81,93.40 231.32,93.71 231.82,94.03 232.33,94.35 232.84,94.67 233.34,94.98 233.84,95.30 234.35,95.61 234.86,95.93 235.36,96.24 235.87,96.56 236.37,96.87 236.87,97.18 237.38,97.50 237.89,97.81 238.39,98.12 238.89,98.43 239.40,98.74 239.91,99.06 240.41,99.37 240.92,99.68 241.42,99.99 241.92,100.30 242.43,100.60 242.94,100.91 243.44,101.22 243.94,101.53 244.45,101.84 244.96,102.14 245.46,102.45 245.97,102.76 246.47,103.06 246.97,103.37 247.48,103.67 247.99,103.98 248.49,104.28 248.99,104.59 249.50,104.89 250.01,105.20 250.51,105.50 251.02,105.80 251.52,106.11 252.02,106.41 252.53,106.71 253.04,107.01 253.54,107.31 254.04,107.61 254.55,107.91 255.06,108.21 255.56,108.51 256.07,108.81 256.57,109.11 257.07,109.41 257.58,109.71 258.09,110.01 258.59,110.31 259.09,110.61 259.60,110.91" fill="none" stroke="#a86fe0" stroke-width="1.5"/>
<path d="M57.60 30.16L60.51 33.07L57.60 35.99L54.69 33.07Z" fill="#a86fe0"/><path d="M72.75 40.06L75.66 42.97L72.75 45.88L69.84 42.97Z" fill="#a86fe0"/><path d="M87.90 50.34L90.81 53.25L87.90 56.17L84.99 53.25Z" fill="#a86fe0"/><path d="M103.05 60.67L105.96 63.59L103.05 66.50L100.14 63.59Z" fill="#a86fe0"/><path d="M118.20 69.41L121.11 72.32L118.20 75.23L115.29 72.32Z" fill="#a86fe0"/><path d="M133.35 71.41L136.26 74.33L133.35 77.24L130.44 74.33Z" fill="#a86fe0"/><path d="M148.50 61.30L151.41 64.22L148.50 67.13L145.59 64.22Z" fill="#a86fe0"/><path d="M163.65 53.14L166.56 56.05L163.65 58.96L160.74 56.05Z" fill="#a86fe0"/><path d="M178.80 56.90L181.71 59.82L178.80 62.73L175.89 59.82Z" fill="#a86fe0"/><path d="M193.95 66.18L196.86 69.09L193.95 72.00L191.04 69.09Z" fill="#a86fe0"/><path d="M209.10 76.37L212.01 79.28L209.10 82.19L206.19 79.28Z" fill="#a86fe0"/><path d="M224.25 86.31L227.16 89.22L224.25 92.13L221.34 89.22Z" fill="#a86fe0"/><path d="M239.40 95.83L242.31 98.74L239.40 101.66L236.49 98.74Z" fill="#a86fe0"/><path d="M254.55 105.00L257.46 107.91L254.55 110.83L251.64 107.91Z" fill="#a86fe0"/>
</g>
<rect x="57.6" y="7.6" width="202.00000000000003" height="148.1" fill="none" stroke="#111" stroke-width="1.3"/>
<path d="M57.60 155.7v-3.2M57.60 7.6v3.2M82.85 155.7v-1.8M82.85 7.6v1.8M108.10 155.7v-3.2M108.10 7.6v3.2M133.35 155.7v-1.8M133.35 7.6v1.8M158.60 155.7v-3.2M158.60 7.6v3.2M183.85 155.7v-1.8M183.85 7.6v1.8M209.10 155.7v-3.2M209.10 7.6v3.2M234.35 155.7v-1.8M234.35 7.6v1.8M259.60 155.7v-3.2M259.60 7.6v3.2M57.6 7.60h3.2M259.6 7.60h-3.2M57.6 28.76h1.8M259.6 28.76h-1.8M57.6 49.91h3.2M259.6 49.91h-3.2M57.6 71.07h1.8M259.6 71.07h-1.8M57.6 92.23h3.2M259.6 92.23h-3.2M57.6 113.39h1.8M259.6 113.39h-1.8M57.6 134.54h3.2M259.6 134.54h-3.2M57.6 155.70h1.8M259.6 155.70h-1.8" stroke="#111" stroke-width="1.1" fill="none"/>
<text x="53.60" y="11.80" font-size="13" text-anchor="end" fill="#000" font-weight="bold" textLength="22.5" lengthAdjust="spacingAndGlyphs">−300</text>
<text x="53.60" y="54.11" font-size="13" text-anchor="end" fill="#000" font-weight="bold" textLength="22.5" lengthAdjust="spacingAndGlyphs">−400</text>
<text x="53.60" y="96.43" font-size="13" text-anchor="end" fill="#000" font-weight="bold" textLength="22.5" lengthAdjust="spacingAndGlyphs">−500</text>
<text x="53.60" y="138.74" font-size="13" text-anchor="end" fill="#000" font-weight="bold" textLength="22.5" lengthAdjust="spacingAndGlyphs">−600</text>
<text x="57.60" y="169.00" font-size="13" text-anchor="middle" fill="#000" font-weight="bold" textLength="27.0" lengthAdjust="spacingAndGlyphs">0.200</text>
<text x="108.10" y="169.00" font-size="13" text-anchor="middle" fill="#000" font-weight="bold" textLength="27.0" lengthAdjust="spacingAndGlyphs">0.205</text>
<text x="158.60" y="169.00" font-size="13" text-anchor="middle" fill="#000" font-weight="bold" textLength="27.0" lengthAdjust="spacingAndGlyphs">0.210</text>
<text x="209.10" y="169.00" font-size="13" text-anchor="middle" fill="#000" font-weight="bold" textLength="27.0" lengthAdjust="spacingAndGlyphs">0.215</text>
<text x="259.60" y="169.00" font-size="13" text-anchor="middle" fill="#000" font-weight="bold" textLength="27.0" lengthAdjust="spacingAndGlyphs">0.220</text>
<text x="157.90" y="185.50" font-size="12.5" text-anchor="middle" fill="#000" font-weight="bold" textLength="89.8" lengthAdjust="spacingAndGlyphs">Frequency (THz)</text>
<text x="25.60" y="82.50" font-size="12.5" text-anchor="middle" fill="#000" font-weight="bold" textLength="65.0" lengthAdjust="spacingAndGlyphs" transform="rotate(-90 25.60 82.50)">Phase (deg)</text>
<path d="M62.5 78.40H88.8" stroke="#454545" stroke-width="1.5"/><rect x="73.70" y="76.50" width="3.81" height="3.81" fill="#454545"/>
<text x="92.00" y="82.70" font-size="13.5" text-anchor="start" fill="#000" textLength="22.2" lengthAdjust="spacingAndGlyphs">N=0</text>
<path d="M62.5 95.20H88.8" stroke="#f0363a" stroke-width="1.5"/><circle cx="75.60" cy="95.20" r="2.24" fill="#f0363a"/>
<text x="92.00" y="99.50" font-size="13.5" text-anchor="start" fill="#000" textLength="22.2" lengthAdjust="spacingAndGlyphs">N=2</text>
<path d="M62.5 112.00H88.8" stroke="#1f6fe6" stroke-width="1.5"/><path d="M75.60 109.31L78.15 113.88L73.05 113.88Z" fill="#1f6fe6"/>
<text x="92.00" y="116.30" font-size="13.5" text-anchor="start" fill="#000" textLength="22.2" lengthAdjust="spacingAndGlyphs">N=4</text>
<path d="M62.5 128.80H88.8" stroke="#2fa862" stroke-width="1.5"/><path d="M75.60 131.49L78.15 126.92L73.05 126.92Z" fill="#2fa862"/>
<text x="92.00" y="133.10" font-size="13.5" text-anchor="start" fill="#000" textLength="22.2" lengthAdjust="spacingAndGlyphs">N=6</text>
<path d="M62.5 145.60H88.8" stroke="#a86fe0" stroke-width="1.5"/><path d="M75.60 142.69L78.51 145.60L75.60 148.51L72.69 145.60Z" fill="#a86fe0"/>
<text x="92.00" y="149.90" font-size="13.5" text-anchor="start" fill="#000" textLength="22.2" lengthAdjust="spacingAndGlyphs">N=8</text>
<clipPath id="cb"><rect x="320.7" y="7.5" width="202.50000000000006" height="148.0"/></clipPath>
<g clip-path="url(#cb)">
<path d="M320.70 22.20C321.54 22.20 324.07 22.20 325.76 22.20C327.45 22.20 329.14 22.20 330.82 22.20C332.51 22.20 334.20 22.20 335.89 22.20C337.57 22.20 339.26 22.20 340.95 22.20C342.64 22.20 344.33 22.20 346.01 22.20C347.70 22.20 349.39 22.20 351.08 22.20C352.76 22.20 354.45 22.20 356.14 22.20C357.83 22.20 359.51 22.20 361.20 22.20C362.89 22.20 364.58 22.20 366.26 22.20C367.95 22.20 369.64 22.20 371.33 22.20C373.01 22.20 374.70 22.20 376.39 22.20C378.08 22.20 379.76 22.20 381.45 22.20C383.14 22.20 384.82 22.20 386.51 22.20C388.20 22.20 389.89 22.20 391.57 22.20C393.26 22.20 394.95 22.20 396.64 22.20C398.32 22.20 400.01 22.20 401.70 22.20C403.39 22.20 405.07 22.20 406.76 22.20C408.45 22.20 410.14 22.20 411.82 22.20C413.51 22.20 415.20 22.20 416.89 22.20C418.58 22.20 420.26 22.20 421.95 22.20C423.64 22.20 425.33 22.20 427.01 22.20C428.70 22.20 430.39 22.20 432.08 22.20C433.76 22.20 435.45 22.20 437.14 22.20C438.83 22.20 440.51 22.20 442.20 22.20C443.89 22.20 445.58 22.20 447.26 22.20C448.95 22.20 450.64 22.20 452.33 22.20C454.01 22.20 455.70 22.20 457.39 22.20C459.08 22.20 460.76 22.20 462.45 22.20C464.14 22.20 465.83 22.20 467.51 22.20C469.20 22.20 470.89 22.20 472.57 22.20C474.26 22.20 475.95 22.20 477.64 22.20C479.32 22.20 481.01 22.20 482.70 22.20C484.39 22.20 486.08 22.20 487.76 22.20C489.45 22.20 491.14 22.20 492.83 22.20C494.51 22.20 496.20 22.20 497.89 22.20C499.58 22.20 501.26 22.20 502.95 22.20C504.64 22.20 506.33 22.20 508.01 22.20C509.70 22.20 511.39 22.20 513.08 22.20C514.76 22.20 516.45 22.20 518.14 22.20C519.83 22.20 522.36 22.20 523.20 22.20" fill="none" stroke="#454545" stroke-width="1.5"/>
<rect x="318.91" y="20.41" width="3.57" height="3.57" fill="#454545"/><rect x="323.98" y="20.41" width="3.57" height="3.57" fill="#454545"/><rect x="329.04" y="20.41" width="3.57" height="3.57" fill="#454545"/><rect x="334.10" y="20.41" width="3.57" height="3.57" fill="#454545"/><rect x="339.16" y="20.41" width="3.57" height="3.57" fill="#454545"/><rect x="344.23" y="20.41" width="3.57" height="3.57" fill="#454545"/><rect x="349.29" y="20.41" width="3.57" height="3.57" fill="#454545"/><rect x="354.35" y="20.41" width="3.57" height="3.57" fill="#454545"/><rect x="359.42" y="20.41" width="3.57" height="3.57" fill="#454545"/><rect x="364.48" y="20.41" width="3.57" height="3.57" fill="#454545"/><rect x="369.54" y="20.41" width="3.57" height="3.57" fill="#454545"/><rect x="374.60" y="20.41" width="3.57" height="3.57" fill="#454545"/><rect x="379.67" y="20.41" width="3.57" height="3.57" fill="#454545"/><rect x="384.73" y="20.41" width="3.57" height="3.57" fill="#454545"/><rect x="389.79" y="20.41" width="3.57" height="3.57" fill="#454545"/><rect x="394.85" y="20.41" width="3.57" height="3.57" fill="#454545"/><rect x="399.91" y="20.41" width="3.57" height="3.57" fill="#454545"/><rect x="404.98" y="20.41" width="3.57" height="3.57" fill="#454545"/><rect x="410.04" y="20.41" width="3.57" height="3.57" fill="#454545"/><rect x="415.10" y="20.41" width="3.57" height="3.57" fill="#454545"/><rect x="420.17" y="20.41" width="3.57" height="3.57" fill="#454545"/><rect x="425.23" y="20.41" width="3.57" height="3.57" fill="#454545"/><rect x="430.29" y="20.41" width="3.57" height="3.57" fill="#454545"/><rect x="435.35" y="20.41" width="3.57" height="3.57" fill="#454545"/><rect x="440.42" y="20.41" width="3.57" height="3.57" fill="#454545"/><rect x="445.48" y="20.41" width="3.57" height="3.57" fill="#454545"/><rect x="450.54" y="20.41" width="3.57" height="3.57" fill="#454545"/><rect x="455.60" y="20.41" width="3.57" height="3.57" fill="#454545"/><rect x="460.67" y="20.41" width="3.57" height="3.57" fill="#454545"/><rect x="465.73" y="20.41" width="3.57" height="3.57" fill="#454545"/><rect x="470.79" y="20.41" width="3.57" height="3.57" fill="#454545"/><rect x="475.85" y="20.41" width="3.57" height="3.57" fill="#454545"/><rect x="480.91" y="20.41" width="3.57" height="3.57" fill="#454545"/><rect x="485.98" y="20.41" width="3.57" height="3.57" fill="#454545"/><rect x="491.04" y="20.41" width="3.57" height="3.57" fill="#454545"/><rect x="496.10" y="20.41" width="3.57" height="3.57" fill="#454545"/><rect x="501.17" y="20.41" width="3.57" height="3.57" fill="#454545"/><rect x="506.23" y="20.41" width="3.57" height="3.57" fill="#454545"/><rect x="511.29" y="20.41" width="3.57" height="3.57" fill="#454545"/><rect x="516.35" y="20.41" width="3.57" height="3.57" fill="#454545"/><rect x="521.42" y="20.41" width="3.57" height="3.57" fill="#454545"/>
<path d="M320.70 22.54C321.54 22.54 324.07 22.56 325.76 22.57C327.45 22.59 329.14 22.60 330.82 22.62C332.51 22.63 334.20 22.65 335.89 22.67C337.57 22.69 339.26 22.71 340.95 22.73C342.64 22.76 344.33 22.78 346.01 22.81C347.70 22.84 349.39 22.87 351.08 22.90C352.76 22.94 354.45 22.98 356.14 23.02C357.83 23.07 359.51 23.11 361.20 23.17C362.89 23.23 364.58 23.29 366.26 23.36C367.95 23.44 369.64 23.52 371.33 23.62C373.01 23.72 374.70 23.83 376.39 23.96C378.08 24.10 379.76 24.25 381.45 24.45C383.14 24.65 384.82 24.86 386.51 25.16C388.20 25.45 389.89 25.77 391.57 26.24C393.26 26.70 394.95 27.19 396.64 27.96C398.32 28.74 400.01 29.56 401.70 30.88C403.39 32.20 405.07 33.78 406.76 35.90C408.45 38.01 410.14 41.30 411.82 43.57C413.51 45.83 415.20 49.13 416.89 49.49C418.58 49.85 420.26 47.68 421.95 45.72C423.64 43.75 425.33 40.01 427.01 37.72C428.70 35.43 430.39 33.49 432.08 31.97C433.76 30.44 435.45 29.49 437.14 28.59C438.83 27.70 440.51 27.15 442.20 26.62C443.89 26.08 445.58 25.73 447.26 25.40C448.95 25.07 450.64 24.83 452.33 24.61C454.01 24.39 455.70 24.23 457.39 24.08C459.08 23.92 460.76 23.81 462.45 23.70C464.14 23.59 465.83 23.50 467.51 23.42C469.20 23.34 470.89 23.28 472.57 23.22C474.26 23.16 475.95 23.11 477.64 23.06C479.32 23.01 481.01 22.97 482.70 22.93C484.39 22.90 486.08 22.86 487.76 22.83C489.45 22.80 491.14 22.78 492.83 22.75C494.51 22.73 496.20 22.71 497.89 22.69C499.58 22.67 501.26 22.65 502.95 22.63C504.64 22.61 506.33 22.60 508.01 22.59C509.70 22.57 511.39 22.56 513.08 22.55C514.76 22.53 516.45 22.52 518.14 22.51C519.83 22.50 522.36 22.49 523.20 22.48" fill="none" stroke="#f0363a" stroke-width="1.5"/>
<circle cx="320.70" cy="22.54" r="2.10" fill="#f0363a"/><circle cx="325.76" cy="22.57" r="2.10" fill="#f0363a"/><circle cx="330.82" cy="22.62" r="2.10" fill="#f0363a"/><circle cx="335.89" cy="22.67" r="2.10" fill="#f0363a"/><circle cx="340.95" cy="22.73" r="2.10" fill="#f0363a"/><circle cx="346.01" cy="22.81" r="2.10" fill="#f0363a"/><circle cx="351.08" cy="22.90" r="2.10" fill="#f0363a"/><circle cx="356.14" cy="23.02" r="2.10" fill="#f0363a"/><circle cx="361.20" cy="23.17" r="2.10" fill="#f0363a"/><circle cx="366.26" cy="23.36" r="2.10" fill="#f0363a"/><circle cx="371.33" cy="23.62" r="2.10" fill="#f0363a"/><circle cx="376.39" cy="23.96" r="2.10" fill="#f0363a"/><circle cx="381.45" cy="24.45" r="2.10" fill="#f0363a"/><circle cx="386.51" cy="25.16" r="2.10" fill="#f0363a"/><circle cx="391.57" cy="26.24" r="2.10" fill="#f0363a"/><circle cx="396.64" cy="27.96" r="2.10" fill="#f0363a"/><circle cx="401.70" cy="30.88" r="2.10" fill="#f0363a"/><circle cx="406.76" cy="35.90" r="2.10" fill="#f0363a"/><circle cx="411.82" cy="43.57" r="2.10" fill="#f0363a"/><circle cx="416.89" cy="49.49" r="2.10" fill="#f0363a"/><circle cx="421.95" cy="45.72" r="2.10" fill="#f0363a"/><circle cx="427.01" cy="37.72" r="2.10" fill="#f0363a"/><circle cx="432.08" cy="31.97" r="2.10" fill="#f0363a"/><circle cx="437.14" cy="28.59" r="2.10" fill="#f0363a"/><circle cx="442.20" cy="26.62" r="2.10" fill="#f0363a"/><circle cx="447.26" cy="25.40" r="2.10" fill="#f0363a"/><circle cx="452.33" cy="24.61" r="2.10" fill="#f0363a"/><circle cx="457.39" cy="24.08" r="2.10" fill="#f0363a"/><circle cx="462.45" cy="23.70" r="2.10" fill="#f0363a"/><circle cx="467.51" cy="23.42" r="2.10" fill="#f0363a"/><circle cx="472.57" cy="23.22" r="2.10" fill="#f0363a"/><circle cx="477.64" cy="23.06" r="2.10" fill="#f0363a"/><circle cx="482.70" cy="22.93" r="2.10" fill="#f0363a"/><circle cx="487.76" cy="22.83" r="2.10" fill="#f0363a"/><circle cx="492.83" cy="22.75" r="2.10" fill="#f0363a"/><circle cx="497.89" cy="22.69" r="2.10" fill="#f0363a"/><circle cx="502.95" cy="22.63" r="2.10" fill="#f0363a"/><circle cx="508.01" cy="22.59" r="2.10" fill="#f0363a"/><circle cx="513.08" cy="22.55" r="2.10" fill="#f0363a"/><circle cx="518.14" cy="22.51" r="2.10" fill="#f0363a"/><circle cx="523.20" cy="22.48" r="2.10" fill="#f0363a"/>
<path d="M320.70 22.92C321.54 22.93 324.07 22.97 325.76 23.00C327.45 23.03 329.14 23.06 330.82 23.09C332.51 23.13 334.20 23.16 335.89 23.21C337.57 23.25 339.26 23.29 340.95 23.34C342.64 23.39 344.33 23.44 346.01 23.50C347.70 23.56 349.39 23.63 351.08 23.70C352.76 23.78 354.45 23.86 356.14 23.95C357.83 24.05 359.51 24.15 361.20 24.27C362.89 24.39 364.58 24.52 366.26 24.68C367.95 24.84 369.64 25.01 371.33 25.23C373.01 25.44 374.70 25.67 376.39 25.97C378.08 26.26 379.76 26.58 381.45 27.00C383.14 27.43 384.82 27.88 386.51 28.51C388.20 29.15 389.89 29.82 391.57 30.82C393.26 31.81 394.95 32.85 396.64 34.51C398.32 36.16 400.01 37.90 401.70 40.73C403.39 43.55 405.07 46.93 406.76 51.45C408.45 55.97 410.14 62.99 411.82 67.82C413.51 72.66 415.20 79.71 416.89 80.47C418.58 81.24 420.26 76.60 421.95 72.41C423.64 68.22 425.33 60.23 427.01 55.33C428.70 50.44 430.39 46.30 432.08 43.05C433.76 39.80 435.45 37.76 437.14 35.85C438.83 33.95 440.51 32.77 442.20 31.63C443.89 30.49 445.58 29.75 447.26 29.03C448.95 28.32 450.64 27.82 452.33 27.35C454.01 26.88 455.70 26.53 457.39 26.21C459.08 25.88 460.76 25.63 462.45 25.40C464.14 25.17 465.83 24.98 467.51 24.81C469.20 24.64 470.89 24.50 472.57 24.37C474.26 24.24 475.95 24.13 477.64 24.03C479.32 23.93 481.01 23.84 482.70 23.77C484.39 23.69 486.08 23.62 487.76 23.55C489.45 23.49 491.14 23.43 492.83 23.38C494.51 23.33 496.20 23.28 497.89 23.24C499.58 23.20 501.26 23.16 502.95 23.12C504.64 23.09 506.33 23.05 508.01 23.02C509.70 22.99 511.39 22.96 513.08 22.94C514.76 22.91 516.45 22.89 518.14 22.87C519.83 22.84 522.36 22.82 523.20 22.81" fill="none" stroke="#1f6fe6" stroke-width="1.5"/>
<path d="M320.70 20.40L323.09 24.68L318.31 24.68Z" fill="#1f6fe6"/><path d="M325.76 20.48L328.16 24.76L323.37 24.76Z" fill="#1f6fe6"/><path d="M330.82 20.57L333.22 24.86L328.43 24.86Z" fill="#1f6fe6"/><path d="M335.89 20.69L338.28 24.97L333.49 24.97Z" fill="#1f6fe6"/><path d="M340.95 20.82L343.34 25.10L338.56 25.10Z" fill="#1f6fe6"/><path d="M346.01 20.98L348.41 25.27L343.62 25.27Z" fill="#1f6fe6"/><path d="M351.08 21.18L353.47 25.47L348.68 25.47Z" fill="#1f6fe6"/><path d="M356.14 21.43L358.53 25.72L353.74 25.72Z" fill="#1f6fe6"/><path d="M361.20 21.75L363.59 26.04L358.81 26.04Z" fill="#1f6fe6"/><path d="M366.26 22.16L368.66 26.45L363.87 26.45Z" fill="#1f6fe6"/><path d="M371.33 22.71L373.72 26.99L368.93 26.99Z" fill="#1f6fe6"/><path d="M376.39 23.45L378.78 27.73L373.99 27.73Z" fill="#1f6fe6"/><path d="M381.45 24.48L383.84 28.77L379.06 28.77Z" fill="#1f6fe6"/><path d="M386.51 25.99L388.91 30.28L384.12 30.28Z" fill="#1f6fe6"/><path d="M391.57 28.30L393.97 32.58L389.18 32.58Z" fill="#1f6fe6"/><path d="M396.64 31.99L399.03 36.27L394.24 36.27Z" fill="#1f6fe6"/><path d="M401.70 38.21L404.09 42.49L399.31 42.49Z" fill="#1f6fe6"/><path d="M406.76 48.93L409.16 53.21L404.37 53.21Z" fill="#1f6fe6"/><path d="M411.82 65.30L414.22 69.59L409.43 69.59Z" fill="#1f6fe6"/><path d="M416.89 77.95L419.28 82.24L414.49 82.24Z" fill="#1f6fe6"/><path d="M421.95 69.89L424.34 74.18L419.56 74.18Z" fill="#1f6fe6"/><path d="M427.01 52.81L429.41 57.10L424.62 57.10Z" fill="#1f6fe6"/><path d="M432.08 40.53L434.47 44.81L429.68 44.81Z" fill="#1f6fe6"/><path d="M437.14 33.33L439.53 37.62L434.74 37.62Z" fill="#1f6fe6"/><path d="M442.20 29.11L444.59 33.39L439.81 33.39Z" fill="#1f6fe6"/><path d="M447.26 26.51L449.66 30.80L444.87 30.80Z" fill="#1f6fe6"/><path d="M452.33 24.83L454.72 29.11L449.93 29.11Z" fill="#1f6fe6"/><path d="M457.39 23.69L459.78 27.97L454.99 27.97Z" fill="#1f6fe6"/><path d="M462.45 22.88L464.84 27.17L460.06 27.17Z" fill="#1f6fe6"/><path d="M467.51 22.29L469.91 26.58L465.12 26.58Z" fill="#1f6fe6"/><path d="M472.57 21.85L474.97 26.13L470.18 26.13Z" fill="#1f6fe6"/><path d="M477.64 21.51L480.03 25.80L475.24 25.80Z" fill="#1f6fe6"/><path d="M482.70 21.25L485.09 25.53L480.31 25.53Z" fill="#1f6fe6"/><path d="M487.76 21.03L490.16 25.32L485.37 25.32Z" fill="#1f6fe6"/><path d="M492.83 20.86L495.22 25.14L490.43 25.14Z" fill="#1f6fe6"/><path d="M497.89 20.72L500.28 25.00L495.49 25.00Z" fill="#1f6fe6"/><path d="M502.95 20.60L505.34 24.89L500.56 24.89Z" fill="#1f6fe6"/><path d="M508.01 20.50L510.41 24.79L505.62 24.79Z" fill="#1f6fe6"/><path d="M513.08 20.42L515.47 24.70L510.68 24.70Z" fill="#1f6fe6"/><path d="M518.14 20.35L520.53 24.63L515.74 24.63Z" fill="#1f6fe6"/><path d="M523.20 20.29L525.59 24.57L520.81 24.57Z" fill="#1f6fe6"/>
<path d="M320.70 23.28C321.54 23.30 324.07 23.36 325.76 23.40C327.45 23.45 329.14 23.49 330.82 23.55C332.51 23.60 334.20 23.65 335.89 23.71C337.57 23.78 339.26 23.84 340.95 23.92C342.64 23.99 344.33 24.07 346.01 24.16C347.70 24.25 349.39 24.35 351.08 24.47C352.76 24.58 354.45 24.70 356.14 24.84C357.83 24.99 359.51 25.14 361.20 25.32C362.89 25.50 364.58 25.70 366.26 25.94C367.95 26.18 369.64 26.44 371.33 26.76C373.01 27.08 374.70 27.43 376.39 27.87C378.08 28.32 379.76 28.79 381.45 29.43C383.14 30.07 384.82 30.75 386.51 31.71C388.20 32.67 389.89 33.67 391.57 35.18C393.26 36.68 394.95 38.25 396.64 40.74C398.32 43.23 400.01 45.86 401.70 50.11C403.39 54.36 405.07 59.46 406.76 66.26C408.45 73.06 410.14 83.64 411.82 90.92C413.51 98.21 415.20 108.82 416.89 109.98C418.58 111.13 420.26 104.15 421.95 97.84C423.64 91.53 425.33 79.48 427.01 72.11C428.70 64.74 430.39 58.50 432.08 53.61C433.76 48.72 435.45 45.63 437.14 42.76C438.83 39.90 440.51 38.12 442.20 36.40C443.89 34.69 445.58 33.57 447.26 32.49C448.95 31.42 450.64 30.67 452.33 29.96C454.01 29.25 455.70 28.73 457.39 28.24C459.08 27.75 460.76 27.37 462.45 27.02C464.14 26.67 465.83 26.39 467.51 26.14C469.20 25.88 470.89 25.67 472.57 25.47C474.26 25.27 475.95 25.11 477.64 24.96C479.32 24.81 481.01 24.68 482.70 24.56C484.39 24.44 486.08 24.33 487.76 24.24C489.45 24.14 491.14 24.06 492.83 23.98C494.51 23.90 496.20 23.83 497.89 23.76C499.58 23.70 501.26 23.64 502.95 23.59C504.64 23.53 506.33 23.48 508.01 23.44C509.70 23.39 511.39 23.35 513.08 23.31C514.76 23.27 516.45 23.24 518.14 23.20C519.83 23.17 522.36 23.13 523.20 23.11" fill="none" stroke="#2fa862" stroke-width="1.5"/>
<path d="M320.70 25.80L323.09 21.52L318.31 21.52Z" fill="#2fa862"/><path d="M325.76 25.92L328.16 21.64L323.37 21.64Z" fill="#2fa862"/><path d="M330.82 26.07L333.22 21.78L328.43 21.78Z" fill="#2fa862"/><path d="M335.89 26.23L338.28 21.95L333.49 21.95Z" fill="#2fa862"/><path d="M340.95 26.44L343.34 22.15L338.56 22.15Z" fill="#2fa862"/><path d="M346.01 26.68L348.41 22.40L343.62 22.40Z" fill="#2fa862"/><path d="M351.08 26.99L353.47 22.70L348.68 22.70Z" fill="#2fa862"/><path d="M356.14 27.36L358.53 23.08L353.74 23.08Z" fill="#2fa862"/><path d="M361.20 27.84L363.59 23.56L358.81 23.56Z" fill="#2fa862"/><path d="M366.26 28.46L368.66 24.18L363.87 24.18Z" fill="#2fa862"/><path d="M371.33 29.28L373.72 24.99L368.93 24.99Z" fill="#2fa862"/><path d="M376.39 30.39L378.78 26.11L373.99 26.11Z" fill="#2fa862"/><path d="M381.45 31.95L383.84 27.67L379.06 27.67Z" fill="#2fa862"/><path d="M386.51 34.23L388.91 29.95L384.12 29.95Z" fill="#2fa862"/><path d="M391.57 37.70L393.97 33.41L389.18 33.41Z" fill="#2fa862"/><path d="M396.64 43.26L399.03 38.97L394.24 38.97Z" fill="#2fa862"/><path d="M401.70 52.63L404.09 48.35L399.31 48.35Z" fill="#2fa862"/><path d="M406.76 68.78L409.16 64.50L404.37 64.50Z" fill="#2fa862"/><path d="M411.82 93.44L414.22 89.16L409.43 89.16Z" fill="#2fa862"/><path d="M416.89 112.50L419.28 108.21L414.49 108.21Z" fill="#2fa862"/><path d="M421.95 100.36L424.34 96.07L419.56 96.07Z" fill="#2fa862"/><path d="M427.01 74.63L429.41 70.34L424.62 70.34Z" fill="#2fa862"/><path d="M432.08 56.13L434.47 51.84L429.68 51.84Z" fill="#2fa862"/><path d="M437.14 45.28L439.53 41.00L434.74 41.00Z" fill="#2fa862"/><path d="M442.20 38.92L444.59 34.64L439.81 34.64Z" fill="#2fa862"/><path d="M447.26 35.01L449.66 30.73L444.87 30.73Z" fill="#2fa862"/><path d="M452.33 32.48L454.72 28.19L449.93 28.19Z" fill="#2fa862"/><path d="M457.39 30.76L459.78 26.47L454.99 26.47Z" fill="#2fa862"/><path d="M462.45 29.54L464.84 25.26L460.06 25.26Z" fill="#2fa862"/><path d="M467.51 28.66L469.91 24.37L465.12 24.37Z" fill="#2fa862"/><path d="M472.57 27.99L474.97 23.71L470.18 23.71Z" fill="#2fa862"/><path d="M477.64 27.48L480.03 23.19L475.24 23.19Z" fill="#2fa862"/><path d="M482.70 27.08L485.09 22.79L480.31 22.79Z" fill="#2fa862"/><path d="M487.76 26.76L490.16 22.47L485.37 22.47Z" fill="#2fa862"/><path d="M492.83 26.50L495.22 22.21L490.43 22.21Z" fill="#2fa862"/><path d="M497.89 26.28L500.28 22.00L495.49 22.00Z" fill="#2fa862"/><path d="M502.95 26.11L505.34 21.82L500.56 21.82Z" fill="#2fa862"/><path d="M508.01 25.96L510.41 21.67L505.62 21.67Z" fill="#2fa862"/><path d="M513.08 25.83L515.47 21.55L510.68 21.55Z" fill="#2fa862"/><path d="M518.14 25.72L520.53 21.44L515.74 21.44Z" fill="#2fa862"/><path d="M523.20 25.63L525.59 21.35L520.81 21.35Z" fill="#2fa862"/>
<path d="M320.70 23.65C321.54 23.68 324.07 23.76 325.76 23.82C327.45 23.88 329.14 23.94 330.82 24.01C332.51 24.08 334.20 24.15 335.89 24.24C337.57 24.32 339.26 24.41 340.95 24.51C342.64 24.61 344.33 24.72 346.01 24.84C347.70 24.96 349.39 25.09 351.08 25.25C352.76 25.40 354.45 25.56 356.14 25.75C357.83 25.94 359.51 26.15 361.20 26.40C362.89 26.64 364.58 26.91 366.26 27.23C367.95 27.55 369.64 27.90 371.33 28.33C373.01 28.76 374.70 29.23 376.39 29.83C378.08 30.43 379.76 31.07 381.45 31.93C383.14 32.79 384.82 33.70 386.51 34.99C388.20 36.27 389.89 37.63 391.57 39.65C393.26 41.67 394.95 43.78 396.64 47.12C398.32 50.47 400.01 54.01 401.70 59.73C403.39 65.45 405.07 72.29 406.76 81.44C408.45 90.59 410.14 104.81 411.82 114.60C413.51 124.40 415.20 138.67 416.89 140.22C418.58 141.77 420.26 132.38 421.95 123.90C423.64 115.41 425.33 99.21 427.01 89.30C428.70 79.39 430.39 71.00 432.08 64.43C433.76 57.85 435.45 53.70 437.14 49.85C438.83 45.99 440.51 43.60 442.20 41.30C443.89 39.00 445.58 37.48 447.26 36.04C448.95 34.59 450.64 33.58 452.33 32.63C454.01 31.68 455.70 30.97 457.39 30.32C459.08 29.66 460.76 29.15 462.45 28.68C464.14 28.21 465.83 27.84 467.51 27.49C469.20 27.14 470.89 26.86 472.57 26.60C474.26 26.33 475.95 26.11 477.64 25.91C479.32 25.70 481.01 25.53 482.70 25.37C484.39 25.21 486.08 25.07 487.76 24.94C489.45 24.81 491.14 24.70 492.83 24.59C494.51 24.48 496.20 24.39 497.89 24.30C499.58 24.22 501.26 24.14 502.95 24.07C504.64 23.99 506.33 23.93 508.01 23.87C509.70 23.80 511.39 23.75 513.08 23.70C514.76 23.64 516.45 23.60 518.14 23.55C519.83 23.51 522.36 23.45 523.20 23.43" fill="none" stroke="#a86fe0" stroke-width="1.5"/>
<path d="M320.70 20.92L323.43 23.65L320.70 26.38L317.97 23.65Z" fill="#a86fe0"/><path d="M325.76 21.09L328.49 23.82L325.76 26.55L323.03 23.82Z" fill="#a86fe0"/><path d="M330.82 21.28L333.56 24.01L330.82 26.74L328.09 24.01Z" fill="#a86fe0"/><path d="M335.89 21.51L338.62 24.24L335.89 26.97L333.16 24.24Z" fill="#a86fe0"/><path d="M340.95 21.78L343.68 24.51L340.95 27.24L338.22 24.51Z" fill="#a86fe0"/><path d="M346.01 22.11L348.74 24.84L346.01 27.57L343.28 24.84Z" fill="#a86fe0"/><path d="M351.08 22.52L353.81 25.25L351.08 27.98L348.35 25.25Z" fill="#a86fe0"/><path d="M356.14 23.02L358.87 25.75L356.14 28.48L353.41 25.75Z" fill="#a86fe0"/><path d="M361.20 23.67L363.93 26.40L361.20 29.13L358.47 26.40Z" fill="#a86fe0"/><path d="M366.26 24.50L368.99 27.23L366.26 29.96L363.53 27.23Z" fill="#a86fe0"/><path d="M371.33 25.60L374.06 28.33L371.33 31.06L368.60 28.33Z" fill="#a86fe0"/><path d="M376.39 27.10L379.12 29.83L376.39 32.56L373.66 29.83Z" fill="#a86fe0"/><path d="M381.45 29.20L384.18 31.93L381.45 34.66L378.72 31.93Z" fill="#a86fe0"/><path d="M386.51 32.26L389.24 34.99L386.51 37.72L383.78 34.99Z" fill="#a86fe0"/><path d="M391.57 36.92L394.31 39.65L391.57 42.38L388.84 39.65Z" fill="#a86fe0"/><path d="M396.64 44.39L399.37 47.12L396.64 49.85L393.91 47.12Z" fill="#a86fe0"/><path d="M401.70 57.00L404.43 59.73L401.70 62.46L398.97 59.73Z" fill="#a86fe0"/><path d="M406.76 78.71L409.49 81.44L406.76 84.17L404.03 81.44Z" fill="#a86fe0"/><path d="M411.82 111.87L414.56 114.60L411.82 117.33L409.09 114.60Z" fill="#a86fe0"/><path d="M416.89 137.49L419.62 140.22L416.89 142.95L414.16 140.22Z" fill="#a86fe0"/><path d="M421.95 121.17L424.68 123.90L421.95 126.63L419.22 123.90Z" fill="#a86fe0"/><path d="M427.01 86.57L429.74 89.30L427.01 92.03L424.28 89.30Z" fill="#a86fe0"/><path d="M432.08 61.70L434.81 64.43L432.08 67.16L429.35 64.43Z" fill="#a86fe0"/><path d="M437.14 47.12L439.87 49.85L437.14 52.58L434.41 49.85Z" fill="#a86fe0"/><path d="M442.20 38.57L444.93 41.30L442.20 44.03L439.47 41.30Z" fill="#a86fe0"/><path d="M447.26 33.31L449.99 36.04L447.26 38.77L444.53 36.04Z" fill="#a86fe0"/><path d="M452.33 29.90L455.06 32.63L452.33 35.36L449.60 32.63Z" fill="#a86fe0"/><path d="M457.39 27.59L460.12 30.32L457.39 33.05L454.66 30.32Z" fill="#a86fe0"/><path d="M462.45 25.95L465.18 28.68L462.45 31.41L459.72 28.68Z" fill="#a86fe0"/><path d="M467.51 24.76L470.24 27.49L467.51 30.22L464.78 27.49Z" fill="#a86fe0"/><path d="M472.57 23.87L475.31 26.60L472.57 29.33L469.84 26.60Z" fill="#a86fe0"/><path d="M477.64 23.18L480.37 25.91L477.64 28.64L474.91 25.91Z" fill="#a86fe0"/><path d="M482.70 22.64L485.43 25.37L482.70 28.10L479.97 25.37Z" fill="#a86fe0"/><path d="M487.76 22.21L490.49 24.94L487.76 27.67L485.03 24.94Z" fill="#a86fe0"/><path d="M492.83 21.86L495.56 24.59L492.83 27.32L490.10 24.59Z" fill="#a86fe0"/><path d="M497.89 21.57L500.62 24.30L497.89 27.03L495.16 24.30Z" fill="#a86fe0"/><path d="M502.95 21.34L505.68 24.07L502.95 26.80L500.22 24.07Z" fill="#a86fe0"/><path d="M508.01 21.14L510.74 23.87L508.01 26.60L505.28 23.87Z" fill="#a86fe0"/><path d="M513.08 20.97L515.81 23.70L513.08 26.43L510.35 23.70Z" fill="#a86fe0"/><path d="M518.14 20.82L520.87 23.55L518.14 26.28L515.41 23.55Z" fill="#a86fe0"/><path d="M523.20 20.70L525.93 23.43L523.20 26.16L520.47 23.43Z" fill="#a86fe0"/>
</g>
<rect x="320.7" y="7.5" width="202.50000000000006" height="148.0" fill="none" stroke="#111" stroke-width="1.3"/>
<path d="M320.70 155.5v-3.2M320.70 7.5v3.2M337.57 155.5v-1.8M337.57 7.5v1.8M354.45 155.5v-3.2M354.45 7.5v3.2M371.33 155.5v-1.8M371.33 7.5v1.8M388.20 155.5v-3.2M388.20 7.5v3.2M405.07 155.5v-1.8M405.07 7.5v1.8M421.95 155.5v-3.2M421.95 7.5v3.2M438.83 155.5v-1.8M438.83 7.5v1.8M455.70 155.5v-3.2M455.70 7.5v3.2M472.57 155.5v-1.8M472.57 7.5v1.8M489.45 155.5v-3.2M489.45 7.5v3.2M506.33 155.5v-1.8M506.33 7.5v1.8M523.20 155.5v-3.2M523.20 7.5v3.2M320.7 22.20h3.2M523.2 22.20h-3.2M320.7 33.31h1.8M523.2 33.31h-1.8M320.7 44.41h3.2M523.2 44.41h-3.2M320.7 55.52h1.8M523.2 55.52h-1.8M320.7 66.63h3.2M523.2 66.63h-3.2M320.7 77.74h1.8M523.2 77.74h-1.8M320.7 88.84h3.2M523.2 88.84h-3.2M320.7 99.95h1.8M523.2 99.95h-1.8M320.7 111.06h3.2M523.2 111.06h-3.2M320.7 122.17h1.8M523.2 122.17h-1.8M320.7 133.28h3.2M523.2 133.28h-3.2M320.7 144.38h1.8M523.2 144.38h-1.8" stroke="#111" stroke-width="1.1" fill="none"/>
<text x="316.50" y="26.40" font-size="13" text-anchor="end" fill="#000" font-weight="bold" textLength="6.0" lengthAdjust="spacingAndGlyphs">0</text>
<text x="316.50" y="48.62" font-size="13" text-anchor="end" fill="#000" font-weight="bold" textLength="11.5" lengthAdjust="spacingAndGlyphs">−3</text>
<text x="316.50" y="70.83" font-size="13" text-anchor="end" fill="#000" font-weight="bold" textLength="11.5" lengthAdjust="spacingAndGlyphs">−6</text>
<text x="316.50" y="93.05" font-size="13" text-anchor="end" fill="#000" font-weight="bold" textLength="11.5" lengthAdjust="spacingAndGlyphs">−9</text>
<text x="316.50" y="115.26" font-size="13" text-anchor="end" fill="#000" font-weight="bold" textLength="17.5" lengthAdjust="spacingAndGlyphs">−12</text>
<text x="316.50" y="137.47" font-size="13" text-anchor="end" fill="#000" font-weight="bold" textLength="17.5" lengthAdjust="spacingAndGlyphs">−15</text>
<text x="316.50" y="159.69" font-size="13" text-anchor="end" fill="#000" font-weight="bold" textLength="17.5" lengthAdjust="spacingAndGlyphs">−18</text>
<text x="320.70" y="168.40" font-size="13" text-anchor="middle" fill="#000" font-weight="bold" textLength="21.4" lengthAdjust="spacingAndGlyphs">0.18</text>
<text x="354.45" y="168.40" font-size="13" text-anchor="middle" fill="#000" font-weight="bold" textLength="21.4" lengthAdjust="spacingAndGlyphs">0.19</text>
<text x="388.20" y="168.40" font-size="13" text-anchor="middle" fill="#000" font-weight="bold" textLength="21.4" lengthAdjust="spacingAndGlyphs">0.20</text>
<text x="421.95" y="168.40" font-size="13" text-anchor="middle" fill="#000" font-weight="bold" textLength="21.4" lengthAdjust="spacingAndGlyphs">0.21</text>
<text x="455.70" y="168.40" font-size="13" text-anchor="middle" fill="#000" font-weight="bold" textLength="21.4" lengthAdjust="spacingAndGlyphs">0.22</text>
<text x="489.45" y="168.40" font-size="13" text-anchor="middle" fill="#000" font-weight="bold" textLength="21.4" lengthAdjust="spacingAndGlyphs">0.23</text>
<text x="523.20" y="168.40" font-size="13" text-anchor="middle" fill="#000" font-weight="bold" textLength="21.4" lengthAdjust="spacingAndGlyphs">0.24</text>
<text x="422.20" y="183.20" font-size="12.5" text-anchor="middle" fill="#000" font-weight="bold" textLength="91.6" lengthAdjust="spacingAndGlyphs">Frequency (THz)</text>
<text transform="rotate(-90 293 81.5)" x="293" y="81.5" font-size="12.5" font-weight="bold" text-anchor="middle" fill="#000" textLength="44.5" lengthAdjust="spacingAndGlyphs">S<tspan font-size="8.5" dy="2.5">21</tspan><tspan dy="-2.5"> (dB)</tspan></text>
<path d="M457 73.80H483.3" stroke="#454545" stroke-width="1.5"/><rect x="468.30" y="71.90" width="3.81" height="3.81" fill="#454545"/>
<text x="486.30" y="78.10" font-size="13.5" text-anchor="start" fill="#000" textLength="22.6" lengthAdjust="spacingAndGlyphs">N=0</text>
<path d="M457 90.80H483.3" stroke="#f0363a" stroke-width="1.5"/><circle cx="470.20" cy="90.80" r="2.24" fill="#f0363a"/>
<text x="486.30" y="95.10" font-size="13.5" text-anchor="start" fill="#000" textLength="22.6" lengthAdjust="spacingAndGlyphs">N=2</text>
<path d="M457 107.80H483.3" stroke="#1f6fe6" stroke-width="1.5"/><path d="M470.20 105.11L472.75 109.68L467.65 109.68Z" fill="#1f6fe6"/>
<text x="486.30" y="112.10" font-size="13.5" text-anchor="start" fill="#000" textLength="22.6" lengthAdjust="spacingAndGlyphs">N=4</text>
<path d="M457 124.80H483.3" stroke="#2fa862" stroke-width="1.5"/><path d="M470.20 127.49L472.75 122.92L467.65 122.92Z" fill="#2fa862"/>
<text x="486.30" y="129.10" font-size="13.5" text-anchor="start" fill="#000" textLength="22.6" lengthAdjust="spacingAndGlyphs">N=6</text>
<path d="M457 141.80H483.3" stroke="#a86fe0" stroke-width="1.5"/><path d="M470.20 138.89L473.11 141.80L470.20 144.71L467.29 141.80Z" fill="#a86fe0"/>
<text x="486.30" y="146.10" font-size="13.5" text-anchor="start" fill="#000" textLength="22.6" lengthAdjust="spacingAndGlyphs">N=8</text>
<text x="135.4" y="205.3" font-size="14" text-anchor="middle" fill="#000" textLength="15" lengthAdjust="spacingAndGlyphs">(<tspan font-weight="bold">a</tspan>)</text>
<text x="423" y="203.2" font-size="14" text-anchor="middle" fill="#000" textLength="15" lengthAdjust="spacingAndGlyphs">(<tspan font-weight="bold">b</tspan>)</text>
<text x="135.6" y="377.6" font-size="14" text-anchor="middle" fill="#000" textLength="15" lengthAdjust="spacingAndGlyphs">(<tspan font-weight="bold">c</tspan>)</text>
<text x="424.2" y="376.2" font-size="14" text-anchor="middle" fill="#000" textLength="15" lengthAdjust="spacingAndGlyphs">(<tspan font-weight="bold">d</tspan>)</text>
<text x="2.60" y="222.50" font-size="13.6" text-anchor="start" fill="#000" textLength="76.0" lengthAdjust="spacingAndGlyphs">E Field (V/m)</text>
<rect x="4.2" y="232.80" width="16.5" height="10.61" fill="#f40c0c"/>
<rect x="4.2" y="243.11" width="16.5" height="10.61" fill="#ff5a10"/>
<rect x="4.2" y="253.42" width="16.5" height="10.61" fill="#ffa510"/>
<rect x="4.2" y="263.73" width="16.5" height="10.61" fill="#f0ff10"/>
<rect x="4.2" y="274.03" width="16.5" height="10.61" fill="#a0f010"/>
<rect x="4.2" y="284.34" width="16.5" height="10.61" fill="#3cf010"/>
<rect x="4.2" y="294.65" width="16.5" height="10.61" fill="#10f03c"/>
<rect x="4.2" y="304.96" width="16.5" height="10.61" fill="#10f0a0"/>
<rect x="4.2" y="315.27" width="16.5" height="10.61" fill="#10f0f0"/>
<rect x="4.2" y="325.57" width="16.5" height="10.61" fill="#10a0f0"/>
<rect x="4.2" y="335.88" width="16.5" height="10.61" fill="#105af0"/>
<rect x="4.2" y="346.19" width="16.5" height="10.61" fill="#1010f0"/>
<text x="22.4" y="238.10" font-size="13.2" fill="#000" textLength="35.4" lengthAdjust="spacingAndGlyphs">6 × 10<tspan font-size="7.4" dy="-3.8">4</tspan></text>
<text x="22.4" y="258.28" font-size="13.2" fill="#000" textLength="35.4" lengthAdjust="spacingAndGlyphs">5 × 10<tspan font-size="7.4" dy="-3.8">4</tspan></text>
<text x="22.4" y="278.46" font-size="13.2" fill="#000" textLength="35.4" lengthAdjust="spacingAndGlyphs">4 × 10<tspan font-size="7.4" dy="-3.8">4</tspan></text>
<text x="22.4" y="298.64" font-size="13.2" fill="#000" textLength="35.4" lengthAdjust="spacingAndGlyphs">3 × 10<tspan font-size="7.4" dy="-3.8">4</tspan></text>
<text x="22.4" y="318.82" font-size="13.2" fill="#000" textLength="35.4" lengthAdjust="spacingAndGlyphs">2 × 10<tspan font-size="7.4" dy="-3.8">4</tspan></text>
<text x="22.4" y="339.00" font-size="13.2" fill="#000" textLength="35.4" lengthAdjust="spacingAndGlyphs">1 × 10<tspan font-size="7.4" dy="-3.8">4</tspan></text>
<text x="26.00" y="359.18" font-size="13.6" text-anchor="start" fill="#000">0</text>
<clipPath id="cclip"><rect x="0" y="200" width="295.6" height="182"/></clipPath>
<g clip-path="url(#cclip)">
<path d="M82.00 315.00L297.50 257.00L297.50 274.60L82.00 338.00Z" fill="#1854e0"/>
<clipPath id="cside"><path d="M82.00 315.00L297.50 257.00L297.50 274.60L82.00 338.00Z"/></clipPath>
<g clip-path="url(#cside)">
<path d="M103.55 330.93L105.94 330.13L108.34 329.00L110.73 327.67L113.13 326.34L115.52 325.17L117.92 324.28L120.31 323.71L122.71 323.42L125.10 323.26L127.49 323.07L129.89 322.70L132.28 322.02L134.68 321.03L137.07 319.77L139.47 318.40L141.86 317.08L144.26 316.00L146.65 315.27L149.04 314.93L151.44 314.91L153.83 315.07L156.23 315.21L158.62 315.14L161.02 314.69L163.41 313.81L165.81 312.52L168.20 310.95L170.59 309.31L172.99 307.79L175.38 306.58L177.78 305.79L180.17 305.42L182.57 305.38L184.96 305.50L187.36 305.60L189.75 305.49L192.14 305.05L194.54 304.24L196.93 303.13L199.33 301.84L201.72 300.53L204.12 299.37L206.51 298.48L208.91 297.88L211.30 297.52L213.69 297.31L216.09 297.07L218.48 296.68L220.88 296.03L223.27 295.09L225.67 293.92L228.06 292.65L230.46 291.43L232.85 290.41L235.24 289.69L237.64 289.31L240.03 289.21L242.43 289.26L244.82 289.28L247.22 289.10L249.61 288.59L252.01 287.69L254.40 286.44L256.79 284.96L259.19 283.42L261.58 282.01L263.98 280.89L266.37 280.14L268.77 279.77L271.16 279.69L273.56 279.76L275.95 279.78L278.34 279.61L280.74 279.14L283.13 278.32L285.53 277.23L287.92 275.97L290.32 274.71L292.71 273.57L295.11 272.67L297.50 272.05L297.50 274.60L103.55 331.66Z" fill="#2cd6f0"/>
<g transform="translate(117.70 322.41) rotate(-17.0)"><ellipse rx="8.60" ry="5.20" fill="#1e78ea"/><ellipse cx="0.6" cy="0.5" rx="6.19" ry="3.64" fill="#2397ef"/><ellipse cx="1.2" cy="0.9" rx="3.61" ry="2.08" fill="#26c2ea"/></g>
<g transform="translate(143.60 314.74) rotate(-17.0)"><ellipse rx="8.60" ry="5.20" fill="#1e78ea"/><ellipse cx="0.6" cy="0.5" rx="6.19" ry="3.64" fill="#2397ef"/><ellipse cx="1.2" cy="0.9" rx="3.61" ry="2.08" fill="#26c2ea"/></g>
<g transform="translate(169.80 306.97) rotate(-17.0)"><ellipse rx="8.60" ry="5.20" fill="#1e78ea"/><ellipse cx="0.6" cy="0.5" rx="6.19" ry="3.64" fill="#2397ef"/><ellipse cx="1.2" cy="0.9" rx="3.61" ry="2.08" fill="#26c2ea"/></g>
<g transform="translate(196.00 299.20) rotate(-17.0)"><ellipse rx="8.60" ry="5.20" fill="#1e78ea"/><ellipse cx="0.6" cy="0.5" rx="6.19" ry="3.64" fill="#2397ef"/><ellipse cx="1.2" cy="0.9" rx="3.61" ry="2.08" fill="#26c2ea"/></g>
<g transform="translate(222.50 291.34) rotate(-17.0)"><ellipse rx="8.60" ry="5.20" fill="#1e78ea"/><ellipse cx="0.6" cy="0.5" rx="6.19" ry="3.64" fill="#2397ef"/><ellipse cx="1.2" cy="0.9" rx="3.61" ry="2.08" fill="#26c2ea"/></g>
<g transform="translate(249.00 283.48) rotate(-17.0)"><ellipse rx="8.60" ry="5.20" fill="#1e78ea"/><ellipse cx="0.6" cy="0.5" rx="6.19" ry="3.64" fill="#2397ef"/><ellipse cx="1.2" cy="0.9" rx="3.61" ry="2.08" fill="#26c2ea"/></g>
<g transform="translate(275.50 275.63) rotate(-17.0)"><ellipse rx="8.60" ry="5.20" fill="#1e78ea"/><ellipse cx="0.6" cy="0.5" rx="6.19" ry="3.64" fill="#2397ef"/><ellipse cx="1.2" cy="0.9" rx="3.61" ry="2.08" fill="#26c2ea"/></g>
</g>
<path d="M63.60 304.00L276.70 238.30L297.50 257.00L82.00 315.00Z" fill="#cdcff0"/>
<path d="M120.5 305.2v9" stroke="#1246cf" stroke-width="1.2" opacity="0.55"/>
<path d="M150.3 296.8v9" stroke="#1246cf" stroke-width="1.2" opacity="0.55"/>
<path d="M180.1 288.4v9" stroke="#1246cf" stroke-width="1.2" opacity="0.55"/>
<path d="M209.9 280.1v9" stroke="#1246cf" stroke-width="1.2" opacity="0.55"/>
<path d="M239.7 271.7v9" stroke="#1246cf" stroke-width="1.2" opacity="0.55"/>
<path d="M269.5 263.3v9" stroke="#1246cf" stroke-width="1.2" opacity="0.55"/>
<path d="M299.3 254.9v9" stroke="#1246cf" stroke-width="1.2" opacity="0.55"/>
<path d="M68.48 304.59L79.24 301.27L91.66 309.94L82.26 312.83Z" fill="#1854e0" stroke="#1854e0" stroke-width="4" stroke-linejoin="round"/>
<path d="M70.96 308.40L86.21 303.70L98.16 310.85L98.16 312.05L82.00 316.20Z" fill="#1854e0"/>
<clipPath id="csil"><path d="M63.60 304.00L276.70 238.30L297.50 257.00L297.50 274.60L82.00 338.00L64.20 321.50Z"/></clipPath>
<g clip-path="url(#csil)">
<path d="M267.33 256.12L297.50 250.00L297.50 258.00L267.33 266.12Z" fill="#1854e0"/>
<path d="M82.00 308.00L297.50 250.00L297.50 258.00L82.00 316.00Z" fill="#1854e0"/>
<path transform="translate(104.50 303.00)" d="M-11.53 1.36L7.26 -3.60L11.44 1.27L11.57 6.74L-11.00 7.85Z" fill="#1854e0" stroke="#1854e0" stroke-width="18.22" stroke-linejoin="round"/><path transform="translate(104.50 303.00)" d="M-11.69 1.48L7.37 -2.94L11.65 1.44L11.76 5.34L-11.24 6.34Z" fill="#228cf0" stroke="#228cf0" stroke-width="15.55" stroke-linejoin="round"/><path transform="translate(104.50 303.00)" d="M-10.81 1.63L6.91 -2.36L10.80 1.50L10.89 4.55L-10.44 5.44Z" fill="#28d8e8" stroke="#28d8e8" stroke-width="14.79" stroke-linejoin="round"/><path transform="translate(104.50 303.00)" d="M-10.12 1.73L6.56 -1.99L10.14 1.54L10.22 4.08L-9.82 4.91Z" fill="#2edba3" stroke="#2edba3" stroke-width="14.47" stroke-linejoin="round"/><path transform="translate(104.50 303.00)" d="M-9.23 1.86L6.09 -1.55L9.28 1.58L9.34 3.54L-9.00 4.30Z" fill="#40e069" stroke="#40e069" stroke-width="14.15" stroke-linejoin="round"/><path transform="translate(104.50 303.00)" d="M-7.02 2.12L4.91 -0.53L7.12 1.63L7.14 2.31L-6.94 2.90Z" fill="#50e446" stroke="#50e446" stroke-width="13.34" stroke-linejoin="round"/><path transform="translate(104.50 303.00)" d="M-5.66 1.90L4.04 -0.27L5.76 1.43L5.77 1.79L-5.62 2.26Z" fill="#7de837" stroke="#7de837" stroke-width="11.54" stroke-linejoin="round"/><path transform="translate(104.50 303.00)" d="M-4.61 1.62L3.32 -0.21L4.70 1.20L4.71 1.55L-4.58 1.95Z" fill="#aaec28" stroke="#aaec28" stroke-width="9.96" stroke-linejoin="round"/><path transform="translate(104.50 303.00)" d="M-3.04 1.17L2.21 -0.11L3.09 0.83L3.10 1.16L-3.01 1.44Z" fill="#ece828" stroke="#ece828" stroke-width="7.41" stroke-linejoin="round"/><path transform="translate(104.50 303.00)" d="M-1.48 0.75L1.13 0.01L1.50 0.47L1.51 0.84L-1.46 0.99Z" fill="#faaa24" stroke="#faaa24" stroke-width="5.22" stroke-linejoin="round"/><path transform="translate(104.50 303.00)" d="M-0.53 0.32L0.42 0.03L0.53 0.19L0.54 0.40L-0.52 0.46Z" fill="#f78c23" stroke="#f78c23" stroke-width="2.43" stroke-linejoin="round"/>
<path transform="translate(134.10 293.90)" d="M-11.30 1.33L7.11 -3.53L11.21 1.25L11.34 6.60L-10.78 7.69Z" fill="#1854e0" stroke="#1854e0" stroke-width="17.85" stroke-linejoin="round"/><path transform="translate(134.10 293.90)" d="M-11.46 1.45L7.22 -2.88L11.41 1.41L11.52 5.24L-11.01 6.21Z" fill="#228cf0" stroke="#228cf0" stroke-width="15.24" stroke-linejoin="round"/><path transform="translate(134.10 293.90)" d="M-10.59 1.60L6.78 -2.31L10.59 1.47L10.67 4.46L-10.23 5.33Z" fill="#28d8e8" stroke="#28d8e8" stroke-width="14.49" stroke-linejoin="round"/><path transform="translate(134.10 293.90)" d="M-9.92 1.70L6.43 -1.95L9.94 1.51L10.01 4.00L-9.62 4.82Z" fill="#2edba3" stroke="#2edba3" stroke-width="14.18" stroke-linejoin="round"/><path transform="translate(134.10 293.90)" d="M-9.05 1.82L5.97 -1.52L9.09 1.55L9.15 3.47L-8.82 4.21Z" fill="#40e069" stroke="#40e069" stroke-width="13.87" stroke-linejoin="round"/><path transform="translate(134.10 293.90)" d="M-6.88 2.08L4.82 -0.52L6.98 1.60L7.00 2.27L-6.80 2.84Z" fill="#50e446" stroke="#50e446" stroke-width="13.07" stroke-linejoin="round"/><path transform="translate(134.10 293.90)" d="M-5.55 1.87L3.96 -0.26L5.64 1.41L5.65 1.75L-5.51 2.22Z" fill="#7de837" stroke="#7de837" stroke-width="11.31" stroke-linejoin="round"/><path transform="translate(134.10 293.90)" d="M-4.52 1.59L3.25 -0.20L4.60 1.17L4.61 1.52L-4.49 1.91Z" fill="#aaec28" stroke="#aaec28" stroke-width="9.76" stroke-linejoin="round"/><path transform="translate(134.10 293.90)" d="M-2.98 1.14L2.17 -0.11L3.03 0.81L3.03 1.14L-2.95 1.41Z" fill="#ece828" stroke="#ece828" stroke-width="7.26" stroke-linejoin="round"/><path transform="translate(134.10 293.90)" d="M-1.45 0.73L1.11 0.01L1.47 0.46L1.48 0.82L-1.43 0.97Z" fill="#faaa24" stroke="#faaa24" stroke-width="5.12" stroke-linejoin="round"/><path transform="translate(134.10 293.90)" d="M-0.52 0.32L0.41 0.03L0.52 0.18L0.53 0.39L-0.51 0.45Z" fill="#f78c23" stroke="#f78c23" stroke-width="2.38" stroke-linejoin="round"/>
<path transform="translate(163.60 285.70)" d="M-11.07 1.31L6.97 -3.45L10.98 1.22L11.11 6.47L-10.56 7.54Z" fill="#1854e0" stroke="#1854e0" stroke-width="17.49" stroke-linejoin="round"/><path transform="translate(163.60 285.70)" d="M-11.22 1.42L7.08 -2.82L11.18 1.38L11.29 5.13L-10.79 6.08Z" fill="#228cf0" stroke="#228cf0" stroke-width="14.93" stroke-linejoin="round"/><path transform="translate(163.60 285.70)" d="M-10.38 1.56L6.64 -2.27L10.37 1.44L10.46 4.36L-10.02 5.22Z" fill="#28d8e8" stroke="#28d8e8" stroke-width="14.19" stroke-linejoin="round"/><path transform="translate(163.60 285.70)" d="M-9.72 1.66L6.30 -1.91L9.74 1.48L9.81 3.92L-9.42 4.72Z" fill="#2edba3" stroke="#2edba3" stroke-width="13.89" stroke-linejoin="round"/><path transform="translate(163.60 285.70)" d="M-8.86 1.79L5.85 -1.48L8.91 1.52L8.96 3.40L-8.64 4.13Z" fill="#40e069" stroke="#40e069" stroke-width="13.58" stroke-linejoin="round"/><path transform="translate(163.60 285.70)" d="M-6.74 2.04L4.72 -0.51L6.84 1.57L6.86 2.22L-6.67 2.78Z" fill="#50e446" stroke="#50e446" stroke-width="12.80" stroke-linejoin="round"/><path transform="translate(163.60 285.70)" d="M-5.43 1.83L3.88 -0.26L5.53 1.38L5.54 1.72L-5.40 2.17Z" fill="#7de837" stroke="#7de837" stroke-width="11.08" stroke-linejoin="round"/><path transform="translate(163.60 285.70)" d="M-4.43 1.55L3.18 -0.20L4.51 1.15L4.52 1.49L-4.40 1.87Z" fill="#aaec28" stroke="#aaec28" stroke-width="9.56" stroke-linejoin="round"/><path transform="translate(163.60 285.70)" d="M-2.91 1.12L2.13 -0.11L2.96 0.79L2.97 1.12L-2.89 1.38Z" fill="#ece828" stroke="#ece828" stroke-width="7.11" stroke-linejoin="round"/><path transform="translate(163.60 285.70)" d="M-1.42 0.72L1.09 0.01L1.44 0.45L1.45 0.80L-1.40 0.95Z" fill="#faaa24" stroke="#faaa24" stroke-width="5.01" stroke-linejoin="round"/><path transform="translate(163.60 285.70)" d="M-0.51 0.31L0.40 0.03L0.51 0.18L0.52 0.38L-0.50 0.44Z" fill="#f78c23" stroke="#f78c23" stroke-width="2.33" stroke-linejoin="round"/>
<path transform="translate(194.10 276.60)" d="M-10.84 1.28L6.82 -3.38L10.75 1.19L10.88 6.34L-10.34 7.38Z" fill="#1854e0" stroke="#1854e0" stroke-width="17.12" stroke-linejoin="round"/><path transform="translate(194.10 276.60)" d="M-10.99 1.39L6.93 -2.76L10.95 1.35L11.05 5.02L-10.56 5.96Z" fill="#228cf0" stroke="#228cf0" stroke-width="14.62" stroke-linejoin="round"/><path transform="translate(194.10 276.60)" d="M-10.16 1.53L6.50 -2.22L10.16 1.41L10.24 4.27L-9.82 5.11Z" fill="#28d8e8" stroke="#28d8e8" stroke-width="13.90" stroke-linejoin="round"/><path transform="translate(194.10 276.60)" d="M-9.52 1.63L6.17 -1.87L9.54 1.45L9.61 3.84L-9.23 4.62Z" fill="#2edba3" stroke="#2edba3" stroke-width="13.60" stroke-linejoin="round"/><path transform="translate(194.10 276.60)" d="M-8.68 1.75L5.73 -1.45L8.72 1.49L8.78 3.33L-8.46 4.04Z" fill="#40e069" stroke="#40e069" stroke-width="13.30" stroke-linejoin="round"/><path transform="translate(194.10 276.60)" d="M-6.60 1.99L4.62 -0.50L6.70 1.54L6.71 2.17L-6.53 2.72Z" fill="#50e446" stroke="#50e446" stroke-width="12.54" stroke-linejoin="round"/><path transform="translate(194.10 276.60)" d="M-5.32 1.79L3.80 -0.25L5.41 1.35L5.42 1.68L-5.29 2.13Z" fill="#7de837" stroke="#7de837" stroke-width="10.84" stroke-linejoin="round"/><path transform="translate(194.10 276.60)" d="M-4.34 1.52L3.12 -0.19L4.41 1.12L4.42 1.46L-4.31 1.83Z" fill="#aaec28" stroke="#aaec28" stroke-width="9.36" stroke-linejoin="round"/><path transform="translate(194.10 276.60)" d="M-2.85 1.10L2.08 -0.11L2.90 0.78L2.91 1.09L-2.83 1.35Z" fill="#ece828" stroke="#ece828" stroke-width="6.96" stroke-linejoin="round"/><path transform="translate(194.10 276.60)" d="M-1.39 0.70L1.06 0.01L1.41 0.44L1.42 0.79L-1.37 0.93Z" fill="#faaa24" stroke="#faaa24" stroke-width="4.91" stroke-linejoin="round"/><path transform="translate(194.10 276.60)" d="M-0.49 0.31L0.39 0.03L0.50 0.18L0.51 0.37L-0.49 0.43Z" fill="#f78c23" stroke="#f78c23" stroke-width="2.28" stroke-linejoin="round"/>
<path transform="translate(224.10 267.30)" d="M-10.61 1.25L6.68 -3.31L10.52 1.17L10.65 6.20L-10.12 7.22Z" fill="#1854e0" stroke="#1854e0" stroke-width="16.76" stroke-linejoin="round"/><path transform="translate(224.10 267.30)" d="M-10.75 1.36L6.78 -2.70L10.72 1.32L10.82 4.92L-10.34 5.83Z" fill="#228cf0" stroke="#228cf0" stroke-width="14.31" stroke-linejoin="round"/><path transform="translate(224.10 267.30)" d="M-9.94 1.50L6.36 -2.17L9.94 1.38L10.02 4.18L-9.61 5.01Z" fill="#28d8e8" stroke="#28d8e8" stroke-width="13.60" stroke-linejoin="round"/><path transform="translate(224.10 267.30)" d="M-9.31 1.60L6.03 -1.83L9.33 1.42L9.40 3.75L-9.03 4.52Z" fill="#2edba3" stroke="#2edba3" stroke-width="13.31" stroke-linejoin="round"/><path transform="translate(224.10 267.30)" d="M-8.49 1.71L5.61 -1.42L8.54 1.45L8.59 3.26L-8.28 3.96Z" fill="#40e069" stroke="#40e069" stroke-width="13.02" stroke-linejoin="round"/><path transform="translate(224.10 267.30)" d="M-6.46 1.95L4.52 -0.49L6.55 1.50L6.57 2.13L-6.39 2.66Z" fill="#50e446" stroke="#50e446" stroke-width="12.27" stroke-linejoin="round"/><path transform="translate(224.10 267.30)" d="M-5.21 1.75L3.72 -0.25L5.30 1.32L5.31 1.65L-5.17 2.08Z" fill="#7de837" stroke="#7de837" stroke-width="10.61" stroke-linejoin="round"/><path transform="translate(224.10 267.30)" d="M-4.25 1.49L3.05 -0.19L4.32 1.10L4.33 1.43L-4.22 1.79Z" fill="#aaec28" stroke="#aaec28" stroke-width="9.16" stroke-linejoin="round"/><path transform="translate(224.10 267.30)" d="M-2.79 1.07L2.04 -0.10L2.84 0.76L2.85 1.07L-2.77 1.32Z" fill="#ece828" stroke="#ece828" stroke-width="6.82" stroke-linejoin="round"/><path transform="translate(224.10 267.30)" d="M-1.36 0.69L1.04 0.01L1.38 0.43L1.39 0.77L-1.35 0.92Z" fill="#faaa24" stroke="#faaa24" stroke-width="4.80" stroke-linejoin="round"/><path transform="translate(224.10 267.30)" d="M-0.48 0.30L0.39 0.03L0.49 0.17L0.49 0.36L-0.48 0.42Z" fill="#f78c23" stroke="#f78c23" stroke-width="2.23" stroke-linejoin="round"/>
<path transform="translate(253.60 258.00)" d="M-10.38 1.22L6.53 -3.24L10.29 1.14L10.42 6.07L-9.90 7.06Z" fill="#1854e0" stroke="#1854e0" stroke-width="16.39" stroke-linejoin="round"/><path transform="translate(253.60 258.00)" d="M-10.52 1.33L6.63 -2.65L10.48 1.29L10.58 4.81L-10.11 5.70Z" fill="#228cf0" stroke="#228cf0" stroke-width="14.00" stroke-linejoin="round"/><path transform="translate(253.60 258.00)" d="M-9.73 1.47L6.22 -2.12L9.72 1.35L9.80 4.09L-9.40 4.90Z" fill="#28d8e8" stroke="#28d8e8" stroke-width="13.31" stroke-linejoin="round"/><path transform="translate(253.60 258.00)" d="M-9.11 1.56L5.90 -1.79L9.13 1.39L9.20 3.67L-8.84 4.42Z" fill="#2edba3" stroke="#2edba3" stroke-width="13.02" stroke-linejoin="round"/><path transform="translate(253.60 258.00)" d="M-8.31 1.68L5.48 -1.39L8.35 1.42L8.40 3.19L-8.10 3.87Z" fill="#40e069" stroke="#40e069" stroke-width="12.73" stroke-linejoin="round"/><path transform="translate(253.60 258.00)" d="M-6.32 1.91L4.42 -0.48L6.41 1.47L6.43 2.08L-6.25 2.61Z" fill="#50e446" stroke="#50e446" stroke-width="12.00" stroke-linejoin="round"/><path transform="translate(253.60 258.00)" d="M-5.09 1.71L3.63 -0.24L5.18 1.29L5.19 1.61L-5.06 2.04Z" fill="#7de837" stroke="#7de837" stroke-width="10.38" stroke-linejoin="round"/><path transform="translate(253.60 258.00)" d="M-4.15 1.46L2.98 -0.19L4.23 1.08L4.23 1.39L-4.13 1.75Z" fill="#aaec28" stroke="#aaec28" stroke-width="8.96" stroke-linejoin="round"/><path transform="translate(253.60 258.00)" d="M-2.73 1.05L1.99 -0.10L2.78 0.74L2.79 1.05L-2.71 1.30Z" fill="#ece828" stroke="#ece828" stroke-width="6.67" stroke-linejoin="round"/><path transform="translate(253.60 258.00)" d="M-1.33 0.67L1.02 0.01L1.35 0.42L1.36 0.75L-1.32 0.90Z" fill="#faaa24" stroke="#faaa24" stroke-width="4.70" stroke-linejoin="round"/><path transform="translate(253.60 258.00)" d="M-0.47 0.29L0.38 0.03L0.48 0.17L0.48 0.36L-0.47 0.41Z" fill="#f78c23" stroke="#f78c23" stroke-width="2.19" stroke-linejoin="round"/>
<path transform="translate(285.50 249.00)" d="M-9.02 1.06L5.67 -2.81L8.94 0.99L9.05 5.27L-8.60 6.14Z" fill="#1854e0" stroke="#1854e0" stroke-width="14.24" stroke-linejoin="round"/><path transform="translate(285.50 249.00)" d="M-9.14 1.16L5.76 -2.30L9.11 1.12L9.19 4.18L-8.79 4.95Z" fill="#228cf0" stroke="#228cf0" stroke-width="12.16" stroke-linejoin="round"/><path transform="translate(285.50 249.00)" d="M-8.45 1.27L5.41 -1.85L8.45 1.18L8.52 3.55L-8.16 4.25Z" fill="#28d8e8" stroke="#28d8e8" stroke-width="11.56" stroke-linejoin="round"/><path transform="translate(285.50 249.00)" d="M-7.92 1.36L5.13 -1.56L7.93 1.21L7.99 3.19L-7.68 3.84Z" fill="#2edba3" stroke="#2edba3" stroke-width="11.31" stroke-linejoin="round"/><path transform="translate(285.50 249.00)" d="M-7.22 1.46L4.76 -1.21L7.25 1.24L7.30 2.77L-7.03 3.36Z" fill="#40e069" stroke="#40e069" stroke-width="11.06" stroke-linejoin="round"/><path transform="translate(285.50 249.00)" d="M-5.49 1.66L3.84 -0.42L5.57 1.28L5.58 1.81L-5.43 2.26Z" fill="#50e446" stroke="#50e446" stroke-width="10.43" stroke-linejoin="round"/><path transform="translate(285.50 249.00)" d="M-4.42 1.49L3.16 -0.21L4.50 1.12L4.51 1.40L-4.40 1.77Z" fill="#7de837" stroke="#7de837" stroke-width="9.02" stroke-linejoin="round"/><path transform="translate(285.50 249.00)" d="M-3.61 1.27L2.59 -0.16L3.67 0.94L3.68 1.21L-3.58 1.52Z" fill="#aaec28" stroke="#aaec28" stroke-width="7.79" stroke-linejoin="round"/><path transform="translate(285.50 249.00)" d="M-2.37 0.91L1.73 -0.09L2.41 0.65L2.42 0.91L-2.35 1.13Z" fill="#ece828" stroke="#ece828" stroke-width="5.79" stroke-linejoin="round"/><path transform="translate(285.50 249.00)" d="M-1.16 0.58L0.89 0.00L1.17 0.37L1.18 0.65L-1.14 0.78Z" fill="#faaa24" stroke="#faaa24" stroke-width="4.08" stroke-linejoin="round"/><path transform="translate(285.50 249.00)" d="M-0.41 0.25L0.33 0.02L0.42 0.15L0.42 0.31L-0.40 0.36Z" fill="#f78c23" stroke="#f78c23" stroke-width="1.90" stroke-linejoin="round"/>
</g>
<clipPath id="cfront"><path d="M63.60 304.00L75.32 300.39Q81.66 304.69 82.00 315.00L82.00 338.00L64.20 321.50Z"/></clipPath>
<path d="M63.60 304.00L75.32 300.39Q81.66 304.69 82.00 315.00L82.00 338.00L64.20 321.50Z" fill="#1854e0"/>
<g clip-path="url(#cfront)">
<g transform="matrix(18.400 11.000 0.300 20.250 63.60 304.00)">
<rect x="0.010" y="-0.420" width="1.040" height="2.2" rx="0.520" ry="0.520" fill="#228cf0"/>
<rect x="0.070" y="-0.360" width="0.920" height="2.2" rx="0.460" ry="0.460" fill="#28d8e8"/>
<rect x="0.130" y="-0.300" width="0.800" height="2.2" rx="0.400" ry="0.400" fill="#3bdf75"/>
<rect x="0.190" y="-0.250" width="0.680" height="2.2" rx="0.340" ry="0.340" fill="#aaec28"/>
<rect x="0.245" y="-0.210" width="0.570" height="2.2" rx="0.285" ry="0.285" fill="#ece828"/>
<rect x="0.320" y="-0.150" width="0.420" height="2.2" rx="0.210" ry="0.210" fill="#f9a324"/>
<rect x="0.405" y="-0.070" width="0.250" height="2.2" rx="0.125" ry="0.125" fill="#e81e1e"/>
</g></g>
<path d="M63.60 304.00L276.70 238.30L297.50 257.00" fill="none" stroke="#a9abd9" stroke-width="0.8"/>
</g>
<g>
<path d="M323.00 314.00L537.00 255.20L537.00 272.60L323.00 339.50Z" fill="#1854e0"/>
<clipPath id="dside"><path d="M323.00 314.00L537.00 255.20L537.00 272.60L323.00 339.50Z"/></clipPath>
<g clip-path="url(#dside)">
<path d="M464.24 275.19L537.00 255.20L537.00 272.60L464.24 295.35Z" fill="#cdcff0"/>
<path d="M349.16 329.89L351.53 328.73L353.91 327.61L356.29 326.67L358.67 325.96L361.04 325.46L363.42 325.08L365.80 324.70L368.18 324.19L370.56 323.46L372.93 322.48L375.31 321.29L377.69 320.01L380.07 318.78L382.44 317.75L384.82 317.02L387.20 316.60L389.58 316.43L391.96 316.40L394.33 316.33L396.71 316.06L399.09 315.49L401.47 314.57L403.84 313.35L406.22 311.95L408.60 310.53L410.98 309.24L413.36 308.22L415.73 307.50L418.11 307.06L420.49 306.79L422.87 306.58L425.24 306.26L427.62 305.75L430.00 305.01L432.38 304.07L434.76 303.01L437.13 301.95L439.51 301.00L441.89 300.24L444.27 299.67L446.64 299.25L449.02 298.87L451.40 298.42L453.78 297.55L456.16 294.36L458.53 291.12L460.91 288.01L463.29 285.14L465.67 283.11L468.04 282.19L470.42 281.48L472.80 280.98L475.18 280.64L477.56 280.36L479.93 280.03L482.31 279.54L484.69 278.85L487.07 277.96L489.44 276.91L491.82 275.82L494.20 274.78L496.58 273.90L498.96 273.22L501.33 272.74L503.71 272.40L506.09 272.09L508.47 271.72L510.84 271.20L513.22 270.48L515.60 269.56L517.98 268.53L520.36 267.46L522.73 266.46L523.09 276.95L348.68 331.47Z" fill="#2cd6f0"/>
<g transform="translate(362.70 317.50) rotate(-17.0)"><ellipse rx="7.60" ry="5.60" fill="#1f7ceb"/><ellipse cx="0.6" cy="0.5" rx="5.47" ry="3.92" fill="#28d8e3"/><ellipse cx="1.2" cy="0.9" rx="3.19" ry="2.24" fill="#3bdf75"/></g>
<g transform="translate(401.00 306.60) rotate(-17.0)"><ellipse rx="7.20" ry="5.50" fill="#1f7ceb"/><ellipse cx="0.6" cy="0.5" rx="5.18" ry="3.85" fill="#27d0e9"/><ellipse cx="1.2" cy="0.9" rx="3.02" ry="2.20" fill="#30dc8c"/></g>
<g transform="translate(422.70 300.30) rotate(-17.0)"><ellipse rx="5.20" ry="4.30" fill="#1f7ceb"/><ellipse cx="0.6" cy="0.5" rx="3.74" ry="3.01" fill="#25b2ec"/><ellipse cx="1.2" cy="0.9" rx="2.18" ry="1.72" fill="#29d9d9"/></g>
<g transform="translate(444.50 293.60) rotate(-17.0)"><ellipse rx="4.80" ry="3.60" fill="#1f7ceb"/><ellipse cx="0.6" cy="0.5" rx="3.46" ry="2.52" fill="#24a6ed"/><ellipse cx="1.2" cy="0.9" rx="2.02" ry="1.44" fill="#27cde9"/></g>
<g transform="translate(461.00 289.80) rotate(-17.0)"><ellipse rx="4.40" ry="3.30" fill="#1f7ceb"/><ellipse cx="0.6" cy="0.5" rx="3.17" ry="2.31" fill="#24a0ee"/><ellipse cx="1.2" cy="0.9" rx="1.85" ry="1.32" fill="#26c2ea"/></g>
</g>
<path d="M304.40 301.30L517.20 236.60L537.00 255.20L323.00 314.00Z" fill="#cdcff0"/>
<path d="M308.97 302.00L319.94 298.66L332.84 308.82L323.33 311.80Z" fill="#1854e0" stroke="#1854e0" stroke-width="4" stroke-linejoin="round"/>
<path d="M311.84 306.38L327.04 301.70L339.05 309.79L339.05 310.99L323.00 315.20Z" fill="#1854e0"/>
<path d="M323.00 307.00L442.84 274.07L451.40 279.72L323.00 315.00Z" fill="#1854e0"/>
<path d="M537.00 255.20L464.24 275.19" fill="none" stroke="#a9abd9" stroke-width="0.8"/>
<path d="M500.50 249.40V270.90A15.00 5.15 0 0 0 530.50 270.90V249.40Z" fill="#1854e0"/><ellipse cx="515.50" cy="249.40" rx="15.00" ry="8.30" fill="#1a62e4"/><ellipse cx="515.80" cy="250.40" rx="9.60" ry="5.05" fill="#2291ef" transform="rotate(-12 515.50 249.40)"/><ellipse cx="515.00" cy="250.00" rx="5.40" ry="2.69" fill="#24a7ed" transform="rotate(-12 515.50 249.40)"/>
<path d="M471.90 258.80V278.30A15.40 5.33 0 0 0 502.70 278.30V258.80Z" fill="#1854e0"/><ellipse cx="487.30" cy="258.80" rx="15.40" ry="8.60" fill="#1a62e4"/><ellipse cx="487.60" cy="259.80" rx="9.86" ry="5.23" fill="#2184ee" transform="rotate(-12 487.30 258.80)"/><ellipse cx="486.80" cy="259.40" rx="5.54" ry="2.79" fill="#228cf0" transform="rotate(-12 487.30 258.80)"/>
<path d="M446.00 266.00V281.00A13.00 4.34 0 0 0 472.00 281.00V266.00Z" fill="#1854e0"/><ellipse cx="459.00" cy="266.00" rx="13.00" ry="7.00" fill="#1a62e4"/><ellipse cx="459.30" cy="267.00" rx="8.32" ry="4.26" fill="#2080ed" transform="rotate(-12 459.00 266.00)"/><ellipse cx="458.50" cy="266.60" rx="5.20" ry="2.52" fill="#239cee" transform="rotate(-12 459.00 266.00)"/>
<path transform="translate(343.60 301.40)" d="M-11.11 1.31L6.99 -3.47L11.02 1.22L11.15 6.49L-10.60 7.56Z" fill="#1854e0" stroke="#1854e0" stroke-width="17.55" stroke-linejoin="round"/><path transform="translate(343.60 301.40)" d="M-11.04 1.41L6.97 -2.94L10.98 1.34L11.10 5.43L-10.59 6.41Z" fill="#228cf0" stroke="#228cf0" stroke-width="15.66" stroke-linejoin="round"/><path transform="translate(343.60 301.40)" d="M-9.96 1.60L6.42 -2.28L9.95 1.41L10.04 4.57L-9.61 5.44Z" fill="#28d8e8" stroke="#28d8e8" stroke-width="14.97" stroke-linejoin="round"/><path transform="translate(343.60 301.40)" d="M-8.53 1.82L5.67 -1.55L8.56 1.48L8.62 3.72L-8.29 4.46Z" fill="#30dc8c" stroke="#30dc8c" stroke-width="14.59" stroke-linejoin="round"/><path transform="translate(343.60 301.40)" d="M-7.14 2.01L4.93 -0.86L7.21 1.53L7.24 2.89L-7.00 3.53Z" fill="#50e446" stroke="#50e446" stroke-width="14.14" stroke-linejoin="round"/><path transform="translate(343.60 301.40)" d="M-5.73 2.13L4.15 -0.23L5.82 1.53L5.84 2.09L-5.68 2.60Z" fill="#aaec28" stroke="#aaec28" stroke-width="13.34" stroke-linejoin="round"/><path transform="translate(343.60 301.40)" d="M-4.97 1.86L3.61 -0.20L5.06 1.33L5.07 1.83L-4.93 2.28Z" fill="#ece828" stroke="#ece828" stroke-width="11.70" stroke-linejoin="round"/><path transform="translate(343.60 301.40)" d="M-4.22 1.59L3.07 -0.16L4.29 1.14L4.30 1.58L-4.18 1.96Z" fill="#faaa24" stroke="#faaa24" stroke-width="10.06" stroke-linejoin="round"/><path transform="translate(343.60 301.40)" d="M-3.74 1.38L2.71 -0.15L3.80 1.00L3.81 1.35L-3.71 1.69Z" fill="#f46e22" stroke="#f46e22" stroke-width="8.66" stroke-linejoin="round"/><path transform="translate(343.60 301.40)" d="M-3.18 1.13L2.29 -0.14L3.23 0.83L3.24 1.09L-3.16 1.37Z" fill="#e81e1e" stroke="#e81e1e" stroke-width="7.02" stroke-linejoin="round"/>
<path transform="translate(373.00 292.90)" d="M-10.94 3.53L6.81 -1.15L10.84 3.54L10.97 8.92L-10.42 9.97Z" fill="#1854e0" stroke="#1854e0" stroke-width="16.42" stroke-linejoin="round"/><path transform="translate(373.00 292.90)" d="M-10.68 3.34L6.69 -0.86L10.62 3.32L10.73 7.42L-10.23 8.36Z" fill="#228cf0" stroke="#228cf0" stroke-width="14.59" stroke-linejoin="round"/><path transform="translate(373.00 292.90)" d="M-9.37 3.36L6.02 -0.32L9.35 3.20L9.43 6.32L-9.03 7.14Z" fill="#28d8e8" stroke="#28d8e8" stroke-width="14.09" stroke-linejoin="round"/><path transform="translate(373.00 292.90)" d="M-8.07 3.39L5.34 0.21L8.09 3.09L8.15 5.23L-7.84 5.94Z" fill="#2ddbab" stroke="#2ddbab" stroke-width="13.56" stroke-linejoin="round"/><path transform="translate(373.00 292.90)" d="M-6.73 3.40L4.63 0.70L6.79 2.96L6.83 4.27L-6.60 4.86Z" fill="#3bdf75" stroke="#3bdf75" stroke-width="13.13" stroke-linejoin="round"/><path transform="translate(373.00 292.90)" d="M-4.22 2.96L3.11 1.10L4.29 2.41L4.31 3.00L-4.18 3.40Z" fill="#50e446" stroke="#50e446" stroke-width="11.26" stroke-linejoin="round"/><path transform="translate(373.00 292.90)" d="M-2.62 1.98L1.95 0.78L2.66 1.60L2.67 2.05L-2.59 2.31Z" fill="#aaec28" stroke="#aaec28" stroke-width="7.66" stroke-linejoin="round"/><path transform="translate(373.00 292.90)" d="M-0.82 0.97L0.66 0.50L0.83 0.74L0.84 1.10L-0.81 1.20Z" fill="#ece828" stroke="#ece828" stroke-width="4.05" stroke-linejoin="round"/>
<path transform="translate(400.60 284.60)" d="M-8.86 0.46L5.38 -3.63L8.73 0.60L8.86 6.23L-8.36 7.15Z" fill="#1854e0" stroke="#1854e0" stroke-width="13.46" stroke-linejoin="round"/><path transform="translate(400.60 284.60)" d="M-8.23 0.70L5.08 -2.87L8.14 0.74L8.24 5.05L-7.81 5.86Z" fill="#228cf0" stroke="#228cf0" stroke-width="12.17" stroke-linejoin="round"/><path transform="translate(400.60 284.60)" d="M-6.78 0.99L4.34 -2.00L6.73 0.85L6.81 4.05L-6.48 4.72Z" fill="#28d8e8" stroke="#28d8e8" stroke-width="11.90" stroke-linejoin="round"/><path transform="translate(400.60 284.60)" d="M-5.36 1.27L3.60 -1.16L5.35 0.94L5.41 3.07L-5.17 3.61Z" fill="#2ddbab" stroke="#2ddbab" stroke-width="11.57" stroke-linejoin="round"/><path transform="translate(400.60 284.60)" d="M-3.71 1.51L2.72 -0.27L3.74 0.99L3.77 2.05L-3.64 2.43Z" fill="#3bdf75" stroke="#3bdf75" stroke-width="11.09" stroke-linejoin="round"/><path transform="translate(400.60 284.60)" d="M-2.49 1.17L1.88 -0.03L2.53 0.76L2.54 1.27L-2.46 1.52Z" fill="#50e446" stroke="#50e446" stroke-width="7.95" stroke-linejoin="round"/><path transform="translate(400.60 284.60)" d="M-0.46 0.35L0.38 0.07L0.47 0.19L0.47 0.46L-0.45 0.52Z" fill="#98ea2e" stroke="#98ea2e" stroke-width="2.78" stroke-linejoin="round"/>
<path transform="translate(430.00 276.60)" d="M-7.98 0.81L4.99 -3.00L7.88 0.74L7.99 5.75L-7.55 6.60Z" fill="#1854e0" stroke="#1854e0" stroke-width="14.49" stroke-linejoin="round"/><path transform="translate(430.00 276.60)" d="M-6.31 1.18L4.13 -1.77L6.27 0.90L6.34 4.09L-6.04 4.74Z" fill="#1f7ceb" stroke="#1f7ceb" stroke-width="13.18" stroke-linejoin="round"/><path transform="translate(430.00 276.60)" d="M-4.57 1.51L3.22 -0.71L4.58 1.01L4.62 2.84L-4.43 3.32Z" fill="#24a2ee" stroke="#24a2ee" stroke-width="12.64" stroke-linejoin="round"/><path transform="translate(430.00 276.60)" d="M-3.17 1.59L2.43 0.01L3.22 1.00L3.24 1.78L-3.13 2.12Z" fill="#28d8e8" stroke="#28d8e8" stroke-width="11.13" stroke-linejoin="round"/><path transform="translate(430.00 276.60)" d="M-1.85 1.00L1.43 0.04L1.87 0.61L1.89 1.15L-1.82 1.36Z" fill="#2ddbab" stroke="#2ddbab" stroke-width="7.15" stroke-linejoin="round"/><path transform="translate(430.00 276.60)" d="M-0.52 0.40L0.44 0.08L0.53 0.21L0.54 0.52L-0.51 0.59Z" fill="#40e069" stroke="#40e069" stroke-width="3.18" stroke-linejoin="round"/>
<clipPath id="dfront"><path d="M304.40 301.30L316.10 297.74Q322.55 302.87 323.00 314.00L323.00 339.50L305.20 320.00Z"/></clipPath>
<path d="M304.40 301.30L316.10 297.74Q322.55 302.87 323.00 314.00L323.00 339.50L305.20 320.00Z" fill="#1854e0"/>
<g clip-path="url(#dfront)">
<g transform="matrix(18.600 12.700 0.400 22.100 304.40 301.30)">
<rect x="0.010" y="-0.420" width="1.040" height="2.2" rx="0.520" ry="0.520" fill="#228cf0"/>
<rect x="0.070" y="-0.360" width="0.920" height="2.2" rx="0.460" ry="0.460" fill="#28d8e8"/>
<rect x="0.130" y="-0.300" width="0.800" height="2.2" rx="0.400" ry="0.400" fill="#3bdf75"/>
<rect x="0.190" y="-0.250" width="0.680" height="2.2" rx="0.340" ry="0.340" fill="#aaec28"/>
<rect x="0.245" y="-0.210" width="0.570" height="2.2" rx="0.285" ry="0.285" fill="#ece828"/>
<rect x="0.320" y="-0.150" width="0.420" height="2.2" rx="0.210" ry="0.210" fill="#f9a324"/>
<rect x="0.405" y="-0.070" width="0.250" height="2.2" rx="0.125" ry="0.125" fill="#e81e1e"/>
</g></g>
<path d="M304.40 301.30L517.20 236.60L537.00 255.20L537.00 272.60" fill="none" stroke="#a9abd9" stroke-width="0.8"/>
</g>
<text x="187.30" y="222.80" font-size="13.6" text-anchor="middle" fill="#000" textLength="123.4" lengthAdjust="spacingAndGlyphs">No significant change</text>
<text x="187.10" y="234.90" font-size="13.6" text-anchor="middle" fill="#000" textLength="105.4" lengthAdjust="spacingAndGlyphs">in E–field intensity</text>
<text x="433.00" y="221.20" font-size="13.6" text-anchor="middle" fill="#000" textLength="113.0" lengthAdjust="spacingAndGlyphs">Significant decrease</text>
<text x="433.00" y="234.30" font-size="13.6" text-anchor="middle" fill="#000" textLength="105.5" lengthAdjust="spacingAndGlyphs">in E–field intensity</text>
<text x="62.50" y="345.70" font-size="13.6" text-anchor="start" fill="#000" textLength="31.0" lengthAdjust="spacingAndGlyphs">Input</text>
<text x="171.00" y="345.70" font-size="13.6" text-anchor="start" fill="#000" textLength="44.0" lengthAdjust="spacingAndGlyphs">0.2 THz</text>
<text x="283.00" y="285.70" font-size="13.6" text-anchor="start" fill="#000" textLength="41.5" lengthAdjust="spacingAndGlyphs">Output</text>
<text x="506.00" y="289.20" font-size="13.6" text-anchor="start" fill="#000" textLength="41.5" lengthAdjust="spacingAndGlyphs">Output</text>
<text x="284.00" y="336.70" font-size="13.6" text-anchor="start" fill="#000" textLength="30.0" lengthAdjust="spacingAndGlyphs">Input</text>
<text x="427.50" y="344.20" font-size="13.6" text-anchor="start" fill="#000" textLength="57.5" lengthAdjust="spacingAndGlyphs">0.209 THz</text>
<path d="M240.30 230.60L265.69 243.66" stroke="#111" stroke-width="1.2" fill="none"/>
<path d="M271.20 246.50L264.68 245.62L266.69 241.71Z" fill="#000"/>
<path d="M486.30 229.40L511.66 242.12" stroke="#111" stroke-width="1.2" fill="none"/>
<path d="M517.20 244.90L510.67 244.09L512.64 240.15Z" fill="#000"/>
</svg></body></html>
